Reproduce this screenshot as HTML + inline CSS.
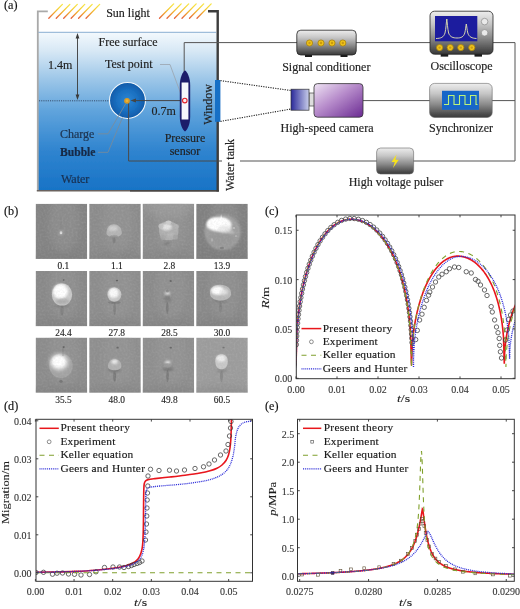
<!DOCTYPE html>
<html><head><meta charset="utf-8"><title>Figure</title>
<style>
html,body{margin:0;padding:0;background:#fff;}
svg{display:block;font-family:"Liberation Serif","DejaVu Serif",serif;}
.lab{font-size:12px;fill:#222;stroke:#222;stroke-width:0.16px;}
.tick{font-size:10px;fill:#333;stroke:#333;stroke-width:0.1px;}
.leg{font-size:11.4px;fill:#161616;stroke:#161616;stroke-width:0.14px;}
.pl{font-size:12.2px;fill:#111;stroke:#111;stroke-width:0.15px;}
.ax{font-size:11px;fill:#1c1c1c;stroke:#1c1c1c;stroke-width:0.1px;}
</style></head><body>
<svg width="520" height="609" viewBox="0 0 520 609">
<defs>
<linearGradient id="water" x1="0" y1="0" x2="0" y2="1">
<stop offset="0" stop-color="#f4f9fd"/><stop offset="0.12" stop-color="#d7e8f5"/><stop offset="0.3" stop-color="#9cc6e8"/><stop offset="0.5" stop-color="#5fa3dc"/><stop offset="0.75" stop-color="#2f84cf"/><stop offset="1" stop-color="#1873c6"/>
</linearGradient>
<linearGradient id="ray" x1="0" y1="1" x2="1" y2="0">
<stop offset="0" stop-color="#e5603a"/><stop offset="0.35" stop-color="#f0a22e"/><stop offset="0.7" stop-color="#f5d235"/><stop offset="1" stop-color="#f7e648"/>
</linearGradient>
<radialGradient id="bub" cx="0.5" cy="0.5" r="0.5">
<stop offset="0" stop-color="#2b86d4"/><stop offset="0.6" stop-color="#1a6fc0"/><stop offset="1" stop-color="#0f5aa8"/>
</radialGradient>
<linearGradient id="box" x1="0" y1="0" x2="0" y2="1">
<stop offset="0" stop-color="#ededed"/><stop offset="0.3" stop-color="#c6c6c6"/><stop offset="0.62" stop-color="#8a8a8a"/><stop offset="1" stop-color="#383838"/>
</linearGradient>
<linearGradient id="lens" x1="0" y1="0" x2="1" y2="0">
<stop offset="0" stop-color="#2a2a9a"/><stop offset="1" stop-color="#c8cdea"/>
</linearGradient>
<linearGradient id="cam" x1="0" y1="0" x2="1" y2="1">
<stop offset="0" stop-color="#efe4f4"/><stop offset="0.45" stop-color="#b78ccb"/><stop offset="1" stop-color="#6a2a92"/>
</linearGradient>
<filter id="b1" x="-50%" y="-50%" width="200%" height="200%"><feGaussianBlur stdDeviation="1"/></filter>
<filter id="b2" x="-50%" y="-50%" width="200%" height="200%"><feGaussianBlur stdDeviation="2"/></filter>
<filter id="b3" x="-50%" y="-50%" width="200%" height="200%"><feGaussianBlur stdDeviation="3.5"/></filter>
<filter id="b05" x="-50%" y="-50%" width="200%" height="200%"><feGaussianBlur stdDeviation="0.5"/></filter>
<filter id="grain" x="0" y="0" width="100%" height="100%"><feTurbulence type="fractalNoise" baseFrequency="0.55" numOctaves="2" seed="7" result="n"/><feColorMatrix type="matrix" values="0 0 0 0 0.3  0 0 0 0 0.3  0 0 0 0 0.3  2.2 0 0 0 -0.8"/><feGaussianBlur stdDeviation="0.7"/></filter>
<filter id="grain2" x="0" y="0" width="100%" height="100%"><feTurbulence type="fractalNoise" baseFrequency="0.5" numOctaves="2" seed="23" result="n"/><feColorMatrix type="matrix" values="0 0 0 0 1  0 0 0 0 1  0 0 0 0 1  2.2 0 0 0 -0.85"/><feGaussianBlur stdDeviation="0.7"/></filter>
<filter id="gb" x="0" y="0" width="520" height="609" filterUnits="userSpaceOnUse"><feGaussianBlur stdDeviation="0.42"/></filter>
<filter id="soft" x="-5%" y="-5%" width="110%" height="110%"><feGaussianBlur stdDeviation="0.35"/></filter>
</defs>
<rect width="520" height="609" fill="#fff"/>
<g filter="url(#gb)">

<g id="pa">
<text x="4" y="8.6" class="pl">(a)</text>
<rect x="37.5" y="32" width="179.5" height="158.6" fill="url(#water)"/>
<path d="M47.8,11.3 H37.8 V190.8" fill="none" stroke="#a9a9a9" stroke-width="1.8"/>
<path d="M36.8,190.7 H130" fill="none" stroke="#6a625e" stroke-width="1.5"/><path d="M130,190.8 H218.9" fill="none" stroke="#4a4644" stroke-width="1.8"/>
<path d="M208,11.2 H217.7 V191.6" fill="none" stroke="#3c3c3c" stroke-width="2.4"/>
<line x1="48.8" y1="18.2" x2="62.4" y2="4.4" stroke="url(#ray)" stroke-width="1.3" stroke-linecap="round"/>
<line x1="56.25" y1="18.2" x2="69.85" y2="4.4" stroke="url(#ray)" stroke-width="1.3" stroke-linecap="round"/>
<line x1="63.7" y1="18.2" x2="77.3" y2="4.4" stroke="url(#ray)" stroke-width="1.3" stroke-linecap="round"/>
<line x1="71.15" y1="18.2" x2="84.75" y2="4.4" stroke="url(#ray)" stroke-width="1.3" stroke-linecap="round"/>
<line x1="78.6" y1="18.2" x2="92.2" y2="4.4" stroke="url(#ray)" stroke-width="1.3" stroke-linecap="round"/>
<line x1="86.05" y1="18.2" x2="99.65" y2="4.4" stroke="url(#ray)" stroke-width="1.3" stroke-linecap="round"/>
<line x1="159.5" y1="18.2" x2="173.7" y2="3.9" stroke="url(#ray)" stroke-width="1.3" stroke-linecap="round"/>
<line x1="167" y1="18.2" x2="181.2" y2="3.9" stroke="url(#ray)" stroke-width="1.3" stroke-linecap="round"/>
<line x1="174.5" y1="18.2" x2="188.7" y2="3.9" stroke="url(#ray)" stroke-width="1.3" stroke-linecap="round"/>
<line x1="182" y1="18.2" x2="196.2" y2="3.9" stroke="url(#ray)" stroke-width="1.3" stroke-linecap="round"/>
<line x1="189.5" y1="18.2" x2="203.7" y2="3.9" stroke="url(#ray)" stroke-width="1.3" stroke-linecap="round"/>
<line x1="197" y1="18.2" x2="211.2" y2="3.9" stroke="url(#ray)" stroke-width="1.3" stroke-linecap="round"/>
<text x="128" y="17" class="lab" text-anchor="middle">Sun light</text>
<line x1="38.5" y1="32.3" x2="216" y2="32.3" stroke="#6f9ac6" stroke-width="0.8"/>
<text x="128" y="46" class="lab" text-anchor="middle">Free surface</text>
<line x1="77.5" y1="35" x2="77.5" y2="98" stroke="#3a3a3a" stroke-width="0.9"/>
<path d="M77.5,33 L75.6,38.5 L79.4,38.5 Z M77.5,100 L75.6,94.5 L79.4,94.5 Z" fill="#3a3a3a"/>
<text x="48" y="69" class="lab">1.4m</text>
<text x="105" y="68" class="lab">Test point</text>
<line x1="39" y1="100.8" x2="110" y2="100.8" stroke="#2b3f5c" stroke-width="0.9" stroke-dasharray="1.1,1.1"/>
<path d="M184.2,72 V42.6 H297" fill="none" stroke="#555" stroke-width="1"/>
<circle cx="127.5" cy="100.5" r="18" fill="url(#bub)" stroke="#f2f7fb" stroke-width="1.1"/>
<path d="M98,133.8 H108 L125.5,104" fill="none" stroke="#7d8a96" stroke-width="0.8"/>
<path d="M98,152.3 H108 L122.5,117.5" fill="none" stroke="#7d8a96" stroke-width="0.8"/>
<path d="M160,64.5 H170 L182.5,98.5" fill="none" stroke="#9aa3ad" stroke-width="0.8"/>
<path d="M128.6,103 V161 H222" fill="none" stroke="#4a4a4a" stroke-width="1"/>
<path d="M240,161 H377" fill="none" stroke="#555" stroke-width="1"/>
<line x1="133" y1="100.6" x2="183" y2="100.6" stroke="#444" stroke-width="1"/>
<path d="M130.5,100.6 L136,98.6 L136,102.6 Z" fill="#444"/>
<circle cx="127" cy="100.8" r="2.9" fill="#d99a26"/>
<circle cx="127" cy="100.8" r="1.4" fill="#e8b43a"/>
<text x="151.5" y="115" class="lab">0.7m</text>
<path d="M185,70.6 C187.2,71.5 190.2,78 190.2,85 V117 C190.2,124 187.2,130.5 185,131.4 C182.8,130.5 179.8,124 179.8,117 V85 C179.8,78 182.8,71.5 185,70.6 Z" fill="#1b1b6b"/>
<rect x="181.6" y="82.5" width="6.8" height="37" fill="#f4f6fb"/>
<circle cx="184.8" cy="100.6" r="2.3" fill="#fbeaea" stroke="#e0202a" stroke-width="1.1"/>
<text x="185" y="142" class="lab" text-anchor="middle">Pressure</text>
<text x="185" y="155" class="lab" text-anchor="middle">sensor</text>
<text x="60" y="137.5" class="lab" style="fill:#1c3558">Charge</text>
<text x="60" y="156" class="lab" style="font-weight:bold;fill:#14294a;font-size:11.6px">Bubble</text>
<text x="61" y="183" class="lab" style="fill:#17325a">Water</text>
<rect x="215" y="80" width="5.4" height="41.8" fill="#176fc6"/>
<text transform="translate(211.6,104.4) rotate(-90)" class="lab" text-anchor="middle">Window</text>
<text transform="translate(233.6,165) rotate(-90)" class="lab" text-anchor="middle">Water tank</text>
<line x1="220.5" y1="80.6" x2="291" y2="90.5" stroke="#222" stroke-width="1.1" stroke-dasharray="1.2,1.2"/>
<line x1="220.5" y1="121.4" x2="291" y2="109" stroke="#222" stroke-width="1.1" stroke-dasharray="1.2,1.2"/>
<path d="M356,42.6 H430 M493,42.6 H515 V161 H413 M363,100.6 H430 M492,100.6 H515" fill="none" stroke="#555" stroke-width="1"/>
<rect x="305" y="54" width="7" height="3" fill="#1a1a1a"/><rect x="340.5" y="54" width="7" height="3" fill="#1a1a1a"/>
<rect x="296.8" y="30.2" width="59.4" height="24.8" rx="4" fill="url(#box)" stroke="#222" stroke-width="0.8"/>
<circle cx="309.5" cy="43" r="3.1" fill="#efc31a" stroke="#a8820e" stroke-width="0.8"/><circle cx="309.5" cy="43" r="1.2" fill="#c99a12"/>
<circle cx="321" cy="43" r="3.1" fill="#efc31a" stroke="#a8820e" stroke-width="0.8"/><circle cx="321" cy="43" r="1.2" fill="#c99a12"/>
<circle cx="332" cy="43" r="3.1" fill="#efc31a" stroke="#a8820e" stroke-width="0.8"/><circle cx="332" cy="43" r="1.2" fill="#c99a12"/>
<circle cx="342.8" cy="43" r="3.1" fill="#efc31a" stroke="#a8820e" stroke-width="0.8"/><circle cx="342.8" cy="43" r="1.2" fill="#c99a12"/>
<text x="326.3" y="71.2" class="lab" text-anchor="middle">Signal conditioner</text>
<rect x="440.7" y="53" width="7.5" height="3.6" fill="#1a1a1a"/><rect x="474.5" y="53" width="7.5" height="3.6" fill="#1a1a1a"/>
<rect x="430" y="11.2" width="63" height="43" rx="4.5" fill="url(#box)" stroke="#222" stroke-width="0.8"/>
<rect x="435" y="16" width="42.3" height="25.3" fill="#1d1d9e"/>
<path d="M436,38.5 C441,38.3 443.5,37.5 445,33 C446,29 446.3,22 446.8,19 C447.3,22 447.6,29 448.6,33 C450,37 453,38 457,38 C461,38 463.5,37 464.8,33 C465.6,30 465.8,26 466.3,24 C466.8,26 467,30 467.8,33 C469,37 472,38.3 476.5,38.5" fill="none" stroke="#e8e6b0" stroke-width="0.9"/>
<circle cx="484.6" cy="21.6" r="3.3" fill="#e9e9e9" stroke="#8a8a8a" stroke-width="0.7"/>
<circle cx="484.6" cy="32.8" r="3.3" fill="#e9e9e9" stroke="#8a8a8a" stroke-width="0.7"/>
<circle cx="439.6" cy="47.6" r="3.1" fill="#efc31a" stroke="#a8820e" stroke-width="0.8"/><circle cx="439.6" cy="47.6" r="1.2" fill="#c99a12"/>
<circle cx="450.2" cy="47.6" r="3.1" fill="#efc31a" stroke="#a8820e" stroke-width="0.8"/><circle cx="450.2" cy="47.6" r="1.2" fill="#c99a12"/>
<circle cx="460.8" cy="47.6" r="3.1" fill="#efc31a" stroke="#a8820e" stroke-width="0.8"/><circle cx="460.8" cy="47.6" r="1.2" fill="#c99a12"/>
<circle cx="471.8" cy="47.6" r="3.1" fill="#efc31a" stroke="#a8820e" stroke-width="0.8"/><circle cx="471.8" cy="47.6" r="1.2" fill="#c99a12"/>
<text x="461.5" y="70.4" class="lab" text-anchor="middle">Oscilloscope</text>
<rect x="309" y="93" width="5.5" height="13" fill="#ddd" stroke="#444" stroke-width="0.7"/>
<rect x="291" y="89.2" width="18" height="21" fill="url(#lens)" stroke="#333" stroke-width="0.7"/>
<rect x="314" y="83.6" width="49" height="33.6" rx="3.5" fill="url(#cam)" stroke="#333" stroke-width="0.8"/>
<text x="327" y="131.6" class="lab" text-anchor="middle">High-speed camera</text>
<rect x="429.6" y="83.4" width="62.6" height="34" rx="5" fill="url(#box)" stroke="#666" stroke-width="0.6"/>
<rect x="442" y="90.8" width="37" height="19" fill="#1466c8"/>
<path d="M444,104.5 H448.5 V95.5 H454 V104.5 H459.5 V95.5 H465 V104.5 H470.5 V95.5 H476 V104.5 H477.5" fill="none" stroke="#baf27a" stroke-width="1.1"/>
<text x="461" y="131.8" class="lab" text-anchor="middle">Synchronizer</text>
<rect x="376.6" y="148" width="37" height="26" rx="4" fill="url(#box)" stroke="#666" stroke-width="0.6"/>
<path d="M396.5,154.5 L391.5,162 L394.8,162 L393,168 L398.8,159.8 L395.4,159.8 Z" fill="#f7e21c"/>
<text x="396" y="186" class="lab" text-anchor="middle">High voltage pulser</text>
</g>
<g id="pb">
<text x="4" y="215" class="pl">(b)</text>
<clipPath id="cl00"><rect x="35.6" y="203.7" width="51.6" height="55.2"/></clipPath>
<g clip-path="url(#cl00)">
<rect x="35.6" y="203.7" width="51.6" height="55.2" fill="#848484"/>
<ellipse cx="63.98" cy="223.02" rx="15.48" ry="30.36" fill="#9c9c9c" opacity="0.35" filter="url(#b3)"/>
<ellipse cx="61.4" cy="260.9" rx="36.12" ry="9" fill="#777" opacity="0.3" filter="url(#b3)"/>
<path d="M60.6,217 h0.8 v13 h-0.8z" fill="#787878" opacity="0.3" filter="url(#b05)"/>
<ellipse cx="61" cy="232.8" rx="1.3" ry="1.5" fill="#ffffff" opacity="1" filter="url(#b05)"/>
<ellipse cx="61" cy="232.8" rx="2.6" ry="2.8" fill="#b0b0b0" opacity="0.5" filter="url(#b1)"/>
<rect x="35.6" y="203.7" width="51.6" height="55.2" filter="url(#grain)" opacity="0.1"/>
<rect x="35.6" y="203.7" width="51.6" height="55.2" filter="url(#grain2)" opacity="0.08"/>
</g>
<text x="63.4" y="269.1" class="tick" style="fill:#1c1c1c;font-size:9.4px;stroke:#1c1c1c;stroke-width:0.12px" text-anchor="middle">0.1</text>
<clipPath id="cl01"><rect x="89.2" y="203.7" width="51.6" height="55.2"/></clipPath>
<g clip-path="url(#cl01)">
<rect x="89.2" y="203.7" width="51.6" height="55.2" fill="#8c8c8c"/>
<ellipse cx="117.58" cy="223.02" rx="15.48" ry="30.36" fill="#9c9c9c" opacity="0.35" filter="url(#b3)"/>
<ellipse cx="115" cy="260.9" rx="36.12" ry="9" fill="#777" opacity="0.3" filter="url(#b3)"/>
<ellipse cx="114" cy="240" rx="1.6" ry="3.5" fill="#7e7e7e" opacity="0.9" filter="url(#b05)"/>
<path d="M106.5,233 C106.5,227 110,224.2 114,224.2 C118,224.2 121.8,227 121.8,233 C121.8,235.5 118,237.2 114,237.2 C110,237.2 106.5,235.5 106.5,233z" fill="#b4b4b4" opacity="1" filter="url(#b05)"/>
<ellipse cx="113" cy="228.5" rx="4.5" ry="2.8" fill="#d2d2d2" opacity="0.9" filter="url(#b1)"/>
<ellipse cx="114" cy="236.5" rx="4" ry="1.3" fill="#8a8a8a" opacity="0.7" filter="url(#b05)"/>
<rect x="89.2" y="203.7" width="51.6" height="55.2" filter="url(#grain)" opacity="0.1"/>
<rect x="89.2" y="203.7" width="51.6" height="55.2" filter="url(#grain2)" opacity="0.08"/>
</g>
<text x="116.8" y="269.1" class="tick" style="fill:#1c1c1c;font-size:9.4px;stroke:#1c1c1c;stroke-width:0.12px" text-anchor="middle">1.1</text>
<clipPath id="cl02"><rect x="142.6" y="203.7" width="51.6" height="55.2"/></clipPath>
<g clip-path="url(#cl02)">
<rect x="142.6" y="203.7" width="51.6" height="55.2" fill="#8d8d8d"/>
<ellipse cx="170.98" cy="223.02" rx="15.48" ry="30.36" fill="#9c9c9c" opacity="0.35" filter="url(#b3)"/>
<ellipse cx="168.4" cy="260.9" rx="36.12" ry="9" fill="#777" opacity="0.3" filter="url(#b3)"/>
<ellipse cx="168.5" cy="204" rx="26" ry="14" fill="#a0a0a0" opacity="0.55" filter="url(#b3)"/>
<path d="M159,231 C158.5,224 163,221 169,221.5 C175,221.5 179,225 178.5,231 C178.5,237 174,240.5 169,240 C163,240.5 159.5,237 159,231z" fill="#aeaeae" opacity="1" filter="url(#b05)"/>
<ellipse cx="166.5" cy="227" rx="5.5" ry="3.6" fill="#e6e6e6" opacity="0.95" filter="url(#b1)"/>
<ellipse cx="171" cy="235" rx="4" ry="3" fill="#b8b8b8" opacity="0.8" filter="url(#b1)"/>
<ellipse cx="161" cy="226" rx="2.6" ry="2.6" fill="#c4c4c4" opacity="0.9" filter="url(#b05)"/>
<ellipse cx="176" cy="226.5" rx="2.8" ry="2.5" fill="#b4b4b4" opacity="0.9" filter="url(#b05)"/>
<ellipse cx="163" cy="237.5" rx="2.6" ry="2.4" fill="#a6a6a6" opacity="0.9" filter="url(#b05)"/>
<ellipse cx="175.5" cy="237" rx="2.6" ry="2.6" fill="#a4a4a4" opacity="0.9" filter="url(#b05)"/>
<ellipse cx="168.5" cy="222.3" rx="3" ry="1.8" fill="#d0d0d0" opacity="0.9" filter="url(#b05)"/>
<ellipse cx="167" cy="243.5" rx="3" ry="1.5" fill="#747474" opacity="0.7" filter="url(#b1)"/>
<rect x="142.6" y="203.7" width="51.6" height="55.2" filter="url(#grain)" opacity="0.1"/>
<rect x="142.6" y="203.7" width="51.6" height="55.2" filter="url(#grain2)" opacity="0.08"/>
</g>
<text x="169.4" y="269.1" class="tick" style="fill:#1c1c1c;font-size:9.4px;stroke:#1c1c1c;stroke-width:0.12px" text-anchor="middle">2.8</text>
<clipPath id="cl03"><rect x="196.2" y="203.7" width="51.6" height="55.2"/></clipPath>
<g clip-path="url(#cl03)">
<rect x="196.2" y="203.7" width="51.6" height="55.2" fill="#808080"/>
<ellipse cx="224.58" cy="223.02" rx="15.48" ry="30.36" fill="#9c9c9c" opacity="0.35" filter="url(#b3)"/>
<ellipse cx="222" cy="260.9" rx="36.12" ry="9" fill="#777" opacity="0.3" filter="url(#b3)"/>
<ellipse cx="222.5" cy="232" rx="18" ry="17.6" fill="#a0a0a0" opacity="1" filter="url(#b1)"/>
<ellipse cx="222.5" cy="237" rx="14" ry="11" fill="#979797" opacity="0.8" filter="url(#b2)"/>
<path d="M221,214 L222.3,219 L220.4,219z" fill="#f0f0f0" opacity="0.9" filter="url(#b05)"/>
<ellipse cx="219" cy="224.5" rx="12.5" ry="7" fill="#ffffff" opacity="1" filter="url(#b1)"/>
<ellipse cx="215" cy="222.5" rx="7" ry="4.5" fill="#ffffff" opacity="1" filter="url(#b1)"/>
<ellipse cx="222" cy="222" rx="6" ry="4" fill="#ffffff" opacity="1" filter="url(#b1)"/>
<ellipse cx="225" cy="229" rx="7" ry="4" fill="#e8e8e8" opacity="0.8" filter="url(#b1)"/>
<ellipse cx="231.5" cy="232.5" rx="3.5" ry="1.3" fill="#d8d8d8" opacity="0.6" filter="url(#b1)"/>
<ellipse cx="234" cy="228" rx="1" ry="1" fill="#ddd" opacity="0.6" filter="url(#b05)"/>
<ellipse cx="236" cy="236" rx="1" ry="1" fill="#ccc" opacity="0.5" filter="url(#b05)"/>
<ellipse cx="212" cy="240" rx="1.2" ry="1.8" fill="#c4c4c4" opacity="0.5" filter="url(#b05)"/>
<ellipse cx="222" cy="248" rx="2" ry="1.2" fill="#6e6e6e" opacity="0.6" filter="url(#b05)"/>
<rect x="196.2" y="203.7" width="51.6" height="55.2" filter="url(#grain)" opacity="0.1"/>
<rect x="196.2" y="203.7" width="51.6" height="55.2" filter="url(#grain2)" opacity="0.08"/>
</g>
<text x="222" y="269.1" class="tick" style="fill:#1c1c1c;font-size:9.4px;stroke:#1c1c1c;stroke-width:0.12px" text-anchor="middle">13.9</text>
<clipPath id="cl10"><rect x="35.6" y="271" width="51.6" height="55.2"/></clipPath>
<g clip-path="url(#cl10)">
<rect x="35.6" y="271" width="51.6" height="55.2" fill="#898989"/>
<ellipse cx="63.98" cy="290.32" rx="15.48" ry="30.36" fill="#9c9c9c" opacity="0.35" filter="url(#b3)"/>
<ellipse cx="61.4" cy="328.2" rx="36.12" ry="9" fill="#777" opacity="0.3" filter="url(#b3)"/>
<ellipse cx="62" cy="310" rx="1.5" ry="5.5" fill="#7c7c7c" opacity="0.8" filter="url(#b05)"/>
<ellipse cx="62" cy="305.8" rx="8" ry="1.5" fill="#777" opacity="0.65" filter="url(#b1)"/>
<ellipse cx="62" cy="294.6" rx="10.2" ry="11" fill="#c9c9c9" opacity="1" filter="url(#b05)"/>
<ellipse cx="60.5" cy="291.5" rx="7.5" ry="7.5" fill="#ffffff" opacity="1" filter="url(#b1)"/>
<ellipse cx="62.5" cy="301.5" rx="7" ry="3" fill="#a5a5a5" opacity="0.7" filter="url(#b1)"/>
<ellipse cx="63.6" cy="280" rx="1" ry="0.8" fill="#555" opacity="0.8" filter="url(#b05)"/>
<rect x="35.6" y="271" width="51.6" height="55.2" filter="url(#grain)" opacity="0.1"/>
<rect x="35.6" y="271" width="51.6" height="55.2" filter="url(#grain2)" opacity="0.08"/>
</g>
<text x="63.4" y="336.4" class="tick" style="fill:#1c1c1c;font-size:9.4px;stroke:#1c1c1c;stroke-width:0.12px" text-anchor="middle">24.4</text>
<clipPath id="cl11"><rect x="89.2" y="271" width="51.6" height="55.2"/></clipPath>
<g clip-path="url(#cl11)">
<rect x="89.2" y="271" width="51.6" height="55.2" fill="#8d8d8d"/>
<ellipse cx="117.58" cy="290.32" rx="15.48" ry="30.36" fill="#9c9c9c" opacity="0.35" filter="url(#b3)"/>
<ellipse cx="115" cy="328.2" rx="36.12" ry="9" fill="#777" opacity="0.3" filter="url(#b3)"/>
<ellipse cx="114.6" cy="309" rx="1.3" ry="6" fill="#7c7c7c" opacity="0.8" filter="url(#b05)"/>
<ellipse cx="114.5" cy="302.5" rx="6.5" ry="1.3" fill="#707070" opacity="0.7" filter="url(#b05)"/>
<ellipse cx="114.4" cy="294.6" rx="7" ry="7.2" fill="#c6c6c6" opacity="1" filter="url(#b05)"/>
<ellipse cx="113.6" cy="293" rx="5" ry="5" fill="#fafafa" opacity="1" filter="url(#b1)"/>
<ellipse cx="117" cy="280.6" rx="1.2" ry="0.8" fill="#555" opacity="0.8" filter="url(#b05)"/>
<rect x="89.2" y="271" width="51.6" height="55.2" filter="url(#grain)" opacity="0.1"/>
<rect x="89.2" y="271" width="51.6" height="55.2" filter="url(#grain2)" opacity="0.08"/>
</g>
<text x="116.8" y="336.4" class="tick" style="fill:#1c1c1c;font-size:9.4px;stroke:#1c1c1c;stroke-width:0.12px" text-anchor="middle">27.8</text>
<clipPath id="cl12"><rect x="142.6" y="271" width="51.6" height="55.2"/></clipPath>
<g clip-path="url(#cl12)">
<rect x="142.6" y="271" width="51.6" height="55.2" fill="#8b8b8b"/>
<ellipse cx="170.98" cy="290.32" rx="15.48" ry="30.36" fill="#9c9c9c" opacity="0.35" filter="url(#b3)"/>
<ellipse cx="168.4" cy="328.2" rx="36.12" ry="9" fill="#777" opacity="0.3" filter="url(#b3)"/>
<ellipse cx="167.3" cy="308" rx="1.2" ry="6" fill="#757575" opacity="0.8" filter="url(#b05)"/>
<ellipse cx="167.5" cy="299" rx="3.6" ry="3.6" fill="#7a7a7a" opacity="0.8" filter="url(#b1)"/>
<ellipse cx="167.5" cy="293.3" rx="2.8" ry="1.8" fill="#e0e0e0" opacity="0.95" filter="url(#b1)"/>
<ellipse cx="167.5" cy="291" rx="1.5" ry="1.5" fill="#777" opacity="0.6" filter="url(#b05)"/>
<ellipse cx="170.7" cy="281" rx="1.2" ry="0.9" fill="#5c5c5c" opacity="0.8" filter="url(#b05)"/>
<rect x="142.6" y="271" width="51.6" height="55.2" filter="url(#grain)" opacity="0.1"/>
<rect x="142.6" y="271" width="51.6" height="55.2" filter="url(#grain2)" opacity="0.08"/>
</g>
<text x="169.4" y="336.4" class="tick" style="fill:#1c1c1c;font-size:9.4px;stroke:#1c1c1c;stroke-width:0.12px" text-anchor="middle">28.5</text>
<clipPath id="cl13"><rect x="196.2" y="271" width="51.6" height="55.2"/></clipPath>
<g clip-path="url(#cl13)">
<rect x="196.2" y="271" width="51.6" height="55.2" fill="#898989"/>
<ellipse cx="224.58" cy="290.32" rx="15.48" ry="30.36" fill="#9c9c9c" opacity="0.35" filter="url(#b3)"/>
<ellipse cx="222" cy="328.2" rx="36.12" ry="9" fill="#777" opacity="0.3" filter="url(#b3)"/>
<ellipse cx="220.5" cy="307" rx="1.3" ry="6" fill="#7c7c7c" opacity="0.8" filter="url(#b05)"/>
<ellipse cx="220" cy="301" rx="7" ry="1.6" fill="#767676" opacity="0.6" filter="url(#b1)"/>
<path d="M210,294 C209.5,288 214,284.5 220,284.8 C226,284.5 231.5,288 231,294 C231,298 226,300.5 220.5,300.5 C215,300.5 210.5,298 210,294z" fill="#b9b9b9" opacity="1" filter="url(#b05)"/>
<ellipse cx="217.5" cy="290.5" rx="6.5" ry="4.3" fill="#ffffff" opacity="1" filter="url(#b1)"/>
<ellipse cx="224" cy="292" rx="4" ry="3" fill="#e6e6e6" opacity="0.8" filter="url(#b1)"/>
<rect x="196.2" y="271" width="51.6" height="55.2" filter="url(#grain)" opacity="0.1"/>
<rect x="196.2" y="271" width="51.6" height="55.2" filter="url(#grain2)" opacity="0.08"/>
</g>
<text x="222" y="336.4" class="tick" style="fill:#1c1c1c;font-size:9.4px;stroke:#1c1c1c;stroke-width:0.12px" text-anchor="middle">30.0</text>
<clipPath id="cl20"><rect x="35.6" y="337.6" width="51.6" height="55.2"/></clipPath>
<g clip-path="url(#cl20)">
<rect x="35.6" y="337.6" width="51.6" height="55.2" fill="#8c8c8c"/>
<ellipse cx="63.98" cy="356.92" rx="15.48" ry="30.36" fill="#9c9c9c" opacity="0.35" filter="url(#b3)"/>
<ellipse cx="61.4" cy="394.8" rx="36.12" ry="9" fill="#777" opacity="0.3" filter="url(#b3)"/>
<ellipse cx="61" cy="365.8" rx="11.8" ry="12.2" fill="#a3a3a3" opacity="1" filter="url(#b05)"/>
<ellipse cx="59" cy="362" rx="8.5" ry="7.5" fill="#ffffff" opacity="1" filter="url(#b2)"/>
<ellipse cx="58.5" cy="361" rx="5.5" ry="4.5" fill="#ffffff" opacity="1" filter="url(#b1)"/>
<ellipse cx="61" cy="381.5" rx="1.8" ry="1.6" fill="#6a6a6a" opacity="0.7" filter="url(#b05)"/>
<ellipse cx="63.6" cy="347" rx="1.1" ry="0.9" fill="#555" opacity="0.8" filter="url(#b05)"/>
<path d="M62.6,348 h0.8 v8 h-0.8z" fill="#6e6e6e" opacity="0.5" filter="url(#b05)"/>
<rect x="35.6" y="337.6" width="51.6" height="55.2" filter="url(#grain)" opacity="0.1"/>
<rect x="35.6" y="337.6" width="51.6" height="55.2" filter="url(#grain2)" opacity="0.08"/>
</g>
<text x="63.4" y="403" class="tick" style="fill:#1c1c1c;font-size:9.4px;stroke:#1c1c1c;stroke-width:0.12px" text-anchor="middle">35.5</text>
<clipPath id="cl21"><rect x="89.2" y="337.6" width="51.6" height="55.2"/></clipPath>
<g clip-path="url(#cl21)">
<rect x="89.2" y="337.6" width="51.6" height="55.2" fill="#8f8f8f"/>
<ellipse cx="117.58" cy="356.92" rx="15.48" ry="30.36" fill="#9c9c9c" opacity="0.35" filter="url(#b3)"/>
<ellipse cx="115" cy="394.8" rx="36.12" ry="9" fill="#777" opacity="0.3" filter="url(#b3)"/>
<ellipse cx="114.6" cy="376" rx="1.4" ry="5.5" fill="#747474" opacity="0.85" filter="url(#b05)"/>
<ellipse cx="114.5" cy="370" rx="6.5" ry="2" fill="#6e6e6e" opacity="0.7" filter="url(#b1)"/>
<path d="M108,366 C108,361.5 111,359.2 114.6,359.2 C118.2,359.2 121.4,361.5 121.4,366 C121.4,369 118,370.3 114.6,370.3 C111,370.3 108,369 108,366z" fill="#b2b2b2" opacity="1" filter="url(#b05)"/>
<ellipse cx="114.6" cy="361.8" rx="3" ry="2.2" fill="#f0f0f0" opacity="0.95" filter="url(#b1)"/>
<ellipse cx="117.5" cy="347.7" rx="1.2" ry="0.9" fill="#5a5a5a" opacity="0.8" filter="url(#b05)"/>
<rect x="89.2" y="337.6" width="51.6" height="55.2" filter="url(#grain)" opacity="0.1"/>
<rect x="89.2" y="337.6" width="51.6" height="55.2" filter="url(#grain2)" opacity="0.08"/>
</g>
<text x="116.8" y="403" class="tick" style="fill:#1c1c1c;font-size:9.4px;stroke:#1c1c1c;stroke-width:0.12px" text-anchor="middle">48.0</text>
<clipPath id="cl22"><rect x="142.6" y="337.6" width="51.6" height="55.2"/></clipPath>
<g clip-path="url(#cl22)">
<rect x="142.6" y="337.6" width="51.6" height="55.2" fill="#8f8f8f"/>
<ellipse cx="170.98" cy="356.92" rx="15.48" ry="30.36" fill="#9c9c9c" opacity="0.35" filter="url(#b3)"/>
<ellipse cx="168.4" cy="394.8" rx="36.12" ry="9" fill="#777" opacity="0.3" filter="url(#b3)"/>
<ellipse cx="167.5" cy="376" rx="1.3" ry="6" fill="#747474" opacity="0.85" filter="url(#b05)"/>
<ellipse cx="168" cy="369" rx="5.6" ry="1.8" fill="#6c6c6c" opacity="0.8" filter="url(#b1)"/>
<ellipse cx="167.8" cy="362.3" rx="2.8" ry="1.9" fill="#e2e2e2" opacity="0.95" filter="url(#b1)"/>
<ellipse cx="167.5" cy="365.5" rx="3.5" ry="2.2" fill="#9a9a9a" opacity="0.8" filter="url(#b05)"/>
<ellipse cx="170.7" cy="347.7" rx="1.2" ry="0.9" fill="#5a5a5a" opacity="0.8" filter="url(#b05)"/>
<rect x="142.6" y="337.6" width="51.6" height="55.2" filter="url(#grain)" opacity="0.1"/>
<rect x="142.6" y="337.6" width="51.6" height="55.2" filter="url(#grain2)" opacity="0.08"/>
</g>
<text x="169.4" y="403" class="tick" style="fill:#1c1c1c;font-size:9.4px;stroke:#1c1c1c;stroke-width:0.12px" text-anchor="middle">49.8</text>
<clipPath id="cl23"><rect x="196.2" y="337.6" width="51.6" height="55.2"/></clipPath>
<g clip-path="url(#cl23)">
<rect x="196.2" y="337.6" width="51.6" height="55.2" fill="#9d9d9d"/>
<ellipse cx="224.58" cy="356.92" rx="15.48" ry="30.36" fill="#9c9c9c" opacity="0.35" filter="url(#b3)"/>
<ellipse cx="222" cy="394.8" rx="36.12" ry="9" fill="#777" opacity="0.3" filter="url(#b3)"/>
<ellipse cx="221.5" cy="376" rx="1.4" ry="6" fill="#858585" opacity="0.85" filter="url(#b05)"/>
<ellipse cx="221.5" cy="370.5" rx="5" ry="1.8" fill="#808080" opacity="0.7" filter="url(#b1)"/>
<path d="M215.3,361.5 C215.3,356.5 218,354.3 221.5,354.3 C225,354.3 227.8,356.5 227.8,361.5 C227.8,366.5 225,369.3 221.5,369.3 C218,369.3 215.3,366.5 215.3,361.5z" fill="#c8c8c8" opacity="1" filter="url(#b05)"/>
<ellipse cx="221" cy="358.5" rx="4.5" ry="3.2" fill="#f0f0f0" opacity="0.95" filter="url(#b1)"/>
<ellipse cx="223.6" cy="347.7" rx="1.2" ry="0.9" fill="#6a6a6a" opacity="0.8" filter="url(#b05)"/>
<rect x="196.2" y="337.6" width="51.6" height="55.2" filter="url(#grain)" opacity="0.1"/>
<rect x="196.2" y="337.6" width="51.6" height="55.2" filter="url(#grain2)" opacity="0.08"/>
</g>
<text x="222" y="403" class="tick" style="fill:#1c1c1c;font-size:9.4px;stroke:#1c1c1c;stroke-width:0.12px" text-anchor="middle">60.5</text>
</g>
<g id="pc">
<text x="265" y="215" class="pl">(c)</text>
<clipPath id="clc"><rect x="296.3" y="215" width="218.7" height="163.7"/></clipPath>
<g clip-path="url(#clc)">
<path d="M296,365.47 L296.96,330.98 L297.92,319.18 L298.89,310.58 L299.85,303.59 L300.81,297.63 L301.77,292.38 L302.74,287.69 L303.7,283.42 L304.66,279.51 L305.62,275.89 L306.59,272.53 L307.55,269.39 L308.51,266.45 L309.47,263.68 L310.44,261.06 L311.4,258.59 L312.36,256.25 L313.32,254.03 L314.29,251.92 L315.25,249.91 L316.21,248 L317.17,246.19 L318.14,244.45 L319.1,242.8 L320.06,241.23 L321.02,239.72 L321.99,238.29 L322.95,236.93 L323.91,235.63 L324.87,234.39 L325.84,233.21 L326.8,232.09 L327.76,231.02 L328.72,230.01 L329.69,229.04 L330.65,228.13 L331.61,227.27 L332.57,226.46 L333.54,225.7 L334.5,224.98 L335.46,224.31 L336.42,223.68 L337.39,223.09 L338.35,222.55 L339.31,222.05 L340.27,221.59 L341.24,221.18 L342.2,220.8 L343.16,220.46 L344.12,220.17 L345.09,219.91 L346.05,219.7 L347.01,219.52 L347.97,219.38 L348.94,219.28 L349.9,219.22 L350.86,219.2 L351.82,219.21 L352.79,219.25 L353.75,219.33 L354.71,219.44 L355.67,219.58 L356.64,219.75 L357.6,219.96 L358.56,220.2 L359.52,220.47 L360.49,220.77 L361.45,221.11 L362.41,221.48 L363.37,221.88 L364.34,222.32 L365.3,222.79 L366.26,223.3 L367.22,223.84 L368.19,224.42 L369.15,225.04 L370.11,225.69 L371.07,226.38 L372.04,227.11 L373,227.88 L373.96,228.69 L374.92,229.54 L375.89,230.44 L376.85,231.37 L377.81,232.36 L378.77,233.38 L379.74,234.46 L380.7,235.59 L381.66,236.76 L382.62,237.99 L383.59,239.27 L384.55,240.61 L385.51,242.01 L386.47,243.47 L387.44,245 L388.4,246.59 L389.36,248.25 L390.32,249.99 L391.29,251.81 L392.25,253.72 L393.21,255.71 L394.17,257.8 L395.13,260 L396.1,262.31 L397.06,264.74 L398.02,267.31 L398.98,270.02 L399.95,272.9 L400.91,275.96 L401.87,279.24 L402.83,282.75 L403.8,286.55 L404.76,290.68 L405.72,295.22 L406.68,300.29 L407.65,306.04 L408.61,312.77 L409.57,321.05 L410.53,332.38 L411.5,365.47 L411.5,363.79 L412.27,344.14 L413.04,336.12 L413.82,330.04 L414.59,324.99 L415.36,320.6 L416.14,316.69 L416.91,313.14 L417.68,309.88 L418.46,306.87 L419.23,304.06 L420,301.44 L420.78,298.97 L421.55,296.63 L422.32,294.43 L423.09,292.34 L423.87,290.35 L424.64,288.46 L425.41,286.65 L426.19,284.93 L426.96,283.29 L427.73,281.72 L428.51,280.21 L429.28,278.78 L430.05,277.4 L430.83,276.09 L431.6,274.83 L432.37,273.62 L433.15,272.46 L433.92,271.36 L434.69,270.3 L435.47,269.29 L436.24,268.33 L437.01,267.4 L437.79,266.52 L438.56,265.69 L439.33,264.89 L440.11,264.13 L440.88,263.41 L441.65,262.72 L442.42,262.08 L443.2,261.47 L443.97,260.89 L444.74,260.35 L445.52,259.85 L446.29,259.37 L447.06,258.93 L447.84,258.53 L448.61,258.15 L449.38,257.81 L450.16,257.5 L450.93,257.22 L451.7,256.98 L452.48,256.76 L453.25,256.58 L454.02,256.42 L454.8,256.3 L455.57,256.21 L456.34,256.15 L457.12,256.11 L457.89,256.11 L458.66,256.13 L459.43,256.18 L460.21,256.25 L460.98,256.35 L461.75,256.47 L462.53,256.61 L463.3,256.78 L464.07,256.98 L464.85,257.2 L465.62,257.44 L466.39,257.71 L467.17,258.01 L467.94,258.33 L468.71,258.68 L469.49,259.05 L470.26,259.45 L471.03,259.88 L471.81,260.34 L472.58,260.83 L473.35,261.34 L474.13,261.89 L474.9,262.47 L475.67,263.07 L476.45,263.71 L477.22,264.39 L477.99,265.09 L478.76,265.84 L479.54,266.62 L480.31,267.43 L481.08,268.29 L481.86,269.18 L482.63,270.12 L483.4,271.1 L484.18,272.12 L484.95,273.2 L485.72,274.32 L486.5,275.5 L487.27,276.73 L488.04,278.02 L488.82,279.38 L489.59,280.8 L490.36,282.29 L491.14,283.86 L491.91,285.52 L492.68,287.27 L493.46,289.11 L494.23,291.07 L495,293.15 L495.77,295.37 L496.55,297.75 L497.32,300.31 L498.09,303.08 L498.87,306.11 L499.64,309.45 L500.41,313.18 L501.19,317.44 L501.96,322.45 L502.73,328.66 L503.51,337.26 L504.28,363.79 L504.68,352.01 L505.07,347.16 L505.47,343.47 L505.86,340.38 L506.26,337.68 L506.66,335.25 L507.05,333.03 L507.45,330.98 L507.84,329.07 L508.24,327.28 L508.63,325.58 L509.03,323.98 L509.43,322.45 L509.82,320.99 L510.22,319.59 L510.61,318.24 L511.01,316.95 L511.41,315.71 L511.8,314.51 L512.2,313.35 L512.59,312.23 L512.99,311.14 L513.38,310.09 L513.78,309.07 L514.18,308.08 L514.57,307.12 L514.97,306.18 L515.36,305.27 L515.76,304.38" fill="none" stroke="#e8141c" stroke-width="1.6"/>
<circle cx="296.33" cy="344.59" r="2.2" fill="none" stroke="#3a3a3a" stroke-width="0.75"/>
<circle cx="296.5" cy="340.3" r="2.2" fill="none" stroke="#3a3a3a" stroke-width="0.75"/>
<circle cx="296.71" cy="336" r="2.2" fill="none" stroke="#3a3a3a" stroke-width="0.75"/>
<circle cx="296.96" cy="331.71" r="2.2" fill="none" stroke="#3a3a3a" stroke-width="0.75"/>
<circle cx="297.27" cy="327.42" r="2.2" fill="none" stroke="#3a3a3a" stroke-width="0.75"/>
<circle cx="297.62" cy="323.14" r="2.2" fill="none" stroke="#3a3a3a" stroke-width="0.75"/>
<circle cx="298.01" cy="318.85" r="2.2" fill="none" stroke="#3a3a3a" stroke-width="0.75"/>
<circle cx="298.47" cy="314.58" r="2.2" fill="none" stroke="#3a3a3a" stroke-width="0.75"/>
<circle cx="298.98" cy="310.31" r="2.2" fill="none" stroke="#3a3a3a" stroke-width="0.75"/>
<circle cx="299.56" cy="306.05" r="2.2" fill="none" stroke="#3a3a3a" stroke-width="0.75"/>
<circle cx="300.19" cy="301.79" r="2.2" fill="none" stroke="#3a3a3a" stroke-width="0.75"/>
<circle cx="300.89" cy="297.55" r="2.2" fill="none" stroke="#3a3a3a" stroke-width="0.75"/>
<circle cx="301.66" cy="293.32" r="2.2" fill="none" stroke="#3a3a3a" stroke-width="0.75"/>
<circle cx="302.5" cy="289.1" r="2.2" fill="none" stroke="#3a3a3a" stroke-width="0.75"/>
<circle cx="303.41" cy="284.9" r="2.2" fill="none" stroke="#3a3a3a" stroke-width="0.75"/>
<circle cx="304.41" cy="280.72" r="2.2" fill="none" stroke="#3a3a3a" stroke-width="0.75"/>
<circle cx="305.49" cy="276.56" r="2.2" fill="none" stroke="#3a3a3a" stroke-width="0.75"/>
<circle cx="306.66" cy="272.42" r="2.2" fill="none" stroke="#3a3a3a" stroke-width="0.75"/>
<circle cx="307.92" cy="268.31" r="2.2" fill="none" stroke="#3a3a3a" stroke-width="0.75"/>
<circle cx="309.29" cy="264.23" r="2.2" fill="none" stroke="#3a3a3a" stroke-width="0.75"/>
<circle cx="310.77" cy="260.2" r="2.2" fill="none" stroke="#3a3a3a" stroke-width="0.75"/>
<circle cx="312.36" cy="256.2" r="2.2" fill="none" stroke="#3a3a3a" stroke-width="0.75"/>
<circle cx="314.08" cy="252.26" r="2.2" fill="none" stroke="#3a3a3a" stroke-width="0.75"/>
<circle cx="315.95" cy="248.39" r="2.2" fill="none" stroke="#3a3a3a" stroke-width="0.75"/>
<circle cx="317.96" cy="244.59" r="2.2" fill="none" stroke="#3a3a3a" stroke-width="0.75"/>
<circle cx="320.13" cy="240.88" r="2.2" fill="none" stroke="#3a3a3a" stroke-width="0.75"/>
<circle cx="322.49" cy="237.28" r="2.2" fill="none" stroke="#3a3a3a" stroke-width="0.75"/>
<circle cx="325.05" cy="233.83" r="2.2" fill="none" stroke="#3a3a3a" stroke-width="0.75"/>
<circle cx="327.83" cy="230.55" r="2.2" fill="none" stroke="#3a3a3a" stroke-width="0.75"/>
<circle cx="330.86" cy="227.5" r="2.2" fill="none" stroke="#3a3a3a" stroke-width="0.75"/>
<circle cx="334.15" cy="224.73" r="2.2" fill="none" stroke="#3a3a3a" stroke-width="0.75"/>
<circle cx="337.72" cy="222.34" r="2.2" fill="none" stroke="#3a3a3a" stroke-width="0.75"/>
<circle cx="341.56" cy="220.42" r="2.2" fill="none" stroke="#3a3a3a" stroke-width="0.75"/>
<circle cx="345.65" cy="219.08" r="2.2" fill="none" stroke="#3a3a3a" stroke-width="0.75"/>
<circle cx="349.89" cy="218.45" r="2.2" fill="none" stroke="#3a3a3a" stroke-width="0.75"/>
<circle cx="354.19" cy="218.54" r="2.2" fill="none" stroke="#3a3a3a" stroke-width="0.75"/>
<circle cx="358.42" cy="219.26" r="2.2" fill="none" stroke="#3a3a3a" stroke-width="0.75"/>
<circle cx="362.52" cy="220.56" r="2.2" fill="none" stroke="#3a3a3a" stroke-width="0.75"/>
<circle cx="366.42" cy="222.35" r="2.2" fill="none" stroke="#3a3a3a" stroke-width="0.75"/>
<circle cx="370.1" cy="224.58" r="2.2" fill="none" stroke="#3a3a3a" stroke-width="0.75"/>
<circle cx="373.55" cy="227.15" r="2.2" fill="none" stroke="#3a3a3a" stroke-width="0.75"/>
<circle cx="376.75" cy="230.01" r="2.2" fill="none" stroke="#3a3a3a" stroke-width="0.75"/>
<circle cx="379.74" cy="233.11" r="2.2" fill="none" stroke="#3a3a3a" stroke-width="0.75"/>
<circle cx="382.51" cy="236.39" r="2.2" fill="none" stroke="#3a3a3a" stroke-width="0.75"/>
<circle cx="385.08" cy="239.84" r="2.2" fill="none" stroke="#3a3a3a" stroke-width="0.75"/>
<circle cx="387.47" cy="243.41" r="2.2" fill="none" stroke="#3a3a3a" stroke-width="0.75"/>
<circle cx="389.7" cy="247.09" r="2.2" fill="none" stroke="#3a3a3a" stroke-width="0.75"/>
<circle cx="391.76" cy="250.86" r="2.2" fill="none" stroke="#3a3a3a" stroke-width="0.75"/>
<circle cx="393.68" cy="254.71" r="2.2" fill="none" stroke="#3a3a3a" stroke-width="0.75"/>
<circle cx="395.47" cy="258.62" r="2.2" fill="none" stroke="#3a3a3a" stroke-width="0.75"/>
<circle cx="397.12" cy="262.59" r="2.2" fill="none" stroke="#3a3a3a" stroke-width="0.75"/>
<circle cx="398.66" cy="266.6" r="2.2" fill="none" stroke="#3a3a3a" stroke-width="0.75"/>
<circle cx="400.09" cy="270.66" r="2.2" fill="none" stroke="#3a3a3a" stroke-width="0.75"/>
<circle cx="401.42" cy="274.75" r="2.2" fill="none" stroke="#3a3a3a" stroke-width="0.75"/>
<circle cx="402.64" cy="278.87" r="2.2" fill="none" stroke="#3a3a3a" stroke-width="0.75"/>
<circle cx="403.78" cy="283.02" r="2.2" fill="none" stroke="#3a3a3a" stroke-width="0.75"/>
<circle cx="404.82" cy="287.19" r="2.2" fill="none" stroke="#3a3a3a" stroke-width="0.75"/>
<circle cx="405.78" cy="291.38" r="2.2" fill="none" stroke="#3a3a3a" stroke-width="0.75"/>
<circle cx="406.66" cy="295.59" r="2.2" fill="none" stroke="#3a3a3a" stroke-width="0.75"/>
<circle cx="407.46" cy="299.82" r="2.2" fill="none" stroke="#3a3a3a" stroke-width="0.75"/>
<circle cx="408.19" cy="304.05" r="2.2" fill="none" stroke="#3a3a3a" stroke-width="0.75"/>
<circle cx="408.86" cy="308.3" r="2.2" fill="none" stroke="#3a3a3a" stroke-width="0.75"/>
<circle cx="409.45" cy="312.56" r="2.2" fill="none" stroke="#3a3a3a" stroke-width="0.75"/>
<circle cx="409.98" cy="316.83" r="2.2" fill="none" stroke="#3a3a3a" stroke-width="0.75"/>
<circle cx="410.46" cy="321.1" r="2.2" fill="none" stroke="#3a3a3a" stroke-width="0.75"/>
<circle cx="410.87" cy="325.38" r="2.2" fill="none" stroke="#3a3a3a" stroke-width="0.75"/>
<circle cx="411.23" cy="329.67" r="2.2" fill="none" stroke="#3a3a3a" stroke-width="0.75"/>
<circle cx="411.53" cy="333.96" r="2.2" fill="none" stroke="#3a3a3a" stroke-width="0.75"/>
<circle cx="411.78" cy="338.25" r="2.2" fill="none" stroke="#3a3a3a" stroke-width="0.75"/>
<circle cx="411.98" cy="342.54" r="2.2" fill="none" stroke="#3a3a3a" stroke-width="0.75"/>
<circle cx="415.7" cy="339.6" r="2.2" fill="none" stroke="#3a3a3a" stroke-width="0.75"/>
<circle cx="417.3" cy="330.4" r="2.2" fill="none" stroke="#3a3a3a" stroke-width="0.75"/>
<circle cx="419.6" cy="320" r="2.2" fill="none" stroke="#3a3a3a" stroke-width="0.75"/>
<circle cx="422" cy="314.2" r="2.2" fill="none" stroke="#3a3a3a" stroke-width="0.75"/>
<circle cx="424.2" cy="307.3" r="2.2" fill="none" stroke="#3a3a3a" stroke-width="0.75"/>
<circle cx="426.5" cy="300.4" r="2.2" fill="none" stroke="#3a3a3a" stroke-width="0.75"/>
<circle cx="428.6" cy="295.2" r="2.2" fill="none" stroke="#3a3a3a" stroke-width="0.75"/>
<circle cx="429.8" cy="292" r="2.2" fill="none" stroke="#3a3a3a" stroke-width="0.75"/>
<circle cx="432.5" cy="287" r="2.2" fill="none" stroke="#3a3a3a" stroke-width="0.75"/>
<circle cx="435.5" cy="282" r="2.2" fill="none" stroke="#3a3a3a" stroke-width="0.75"/>
<circle cx="438.75" cy="277" r="2.2" fill="none" stroke="#3a3a3a" stroke-width="0.75"/>
<circle cx="442" cy="274.25" r="2.2" fill="none" stroke="#3a3a3a" stroke-width="0.75"/>
<circle cx="446.25" cy="271.75" r="2.2" fill="none" stroke="#3a3a3a" stroke-width="0.75"/>
<circle cx="449.5" cy="268.75" r="2.2" fill="none" stroke="#3a3a3a" stroke-width="0.75"/>
<circle cx="454.5" cy="267" r="2.2" fill="none" stroke="#3a3a3a" stroke-width="0.75"/>
<circle cx="458.75" cy="267.5" r="2.2" fill="none" stroke="#3a3a3a" stroke-width="0.75"/>
<circle cx="466.25" cy="271.75" r="2.2" fill="none" stroke="#3a3a3a" stroke-width="0.75"/>
<circle cx="471.25" cy="273" r="2.2" fill="none" stroke="#3a3a3a" stroke-width="0.75"/>
<circle cx="475.5" cy="279.5" r="2.2" fill="none" stroke="#3a3a3a" stroke-width="0.75"/>
<circle cx="478" cy="281.25" r="2.2" fill="none" stroke="#3a3a3a" stroke-width="0.75"/>
<circle cx="480.5" cy="285" r="2.2" fill="none" stroke="#3a3a3a" stroke-width="0.75"/>
<circle cx="484.5" cy="290" r="2.2" fill="none" stroke="#3a3a3a" stroke-width="0.75"/>
<circle cx="487" cy="295.5" r="2.2" fill="none" stroke="#3a3a3a" stroke-width="0.75"/>
<circle cx="491.2" cy="306.6" r="2.2" fill="none" stroke="#3a3a3a" stroke-width="0.75"/>
<circle cx="492.3" cy="312" r="2.2" fill="none" stroke="#3a3a3a" stroke-width="0.75"/>
<circle cx="494.6" cy="320" r="2.2" fill="none" stroke="#3a3a3a" stroke-width="0.75"/>
<circle cx="496.5" cy="327" r="2.2" fill="none" stroke="#3a3a3a" stroke-width="0.75"/>
<circle cx="498" cy="332.7" r="2.2" fill="none" stroke="#3a3a3a" stroke-width="0.75"/>
<circle cx="499.2" cy="338.5" r="2.2" fill="none" stroke="#3a3a3a" stroke-width="0.75"/>
<circle cx="499.7" cy="345.4" r="2.2" fill="none" stroke="#3a3a3a" stroke-width="0.75"/>
<circle cx="500.4" cy="351.8" r="2.2" fill="none" stroke="#3a3a3a" stroke-width="0.75"/>
<circle cx="501.5" cy="358" r="2.2" fill="none" stroke="#3a3a3a" stroke-width="0.75"/>
<circle cx="505.5" cy="340" r="2.2" fill="none" stroke="#3a3a3a" stroke-width="0.75"/>
<circle cx="507" cy="330" r="2.2" fill="none" stroke="#3a3a3a" stroke-width="0.75"/>
<circle cx="508.5" cy="319.5" r="2.2" fill="none" stroke="#3a3a3a" stroke-width="0.75"/>
<circle cx="510.5" cy="315" r="2.2" fill="none" stroke="#3a3a3a" stroke-width="0.75"/>
<circle cx="513" cy="311" r="2.2" fill="none" stroke="#3a3a3a" stroke-width="0.75"/>
<path d="M296,366.46 L296.96,331.75 L297.92,319.87 L298.89,311.21 L299.85,304.18 L300.81,298.17 L301.77,292.9 L302.73,288.17 L303.69,283.88 L304.66,279.94 L305.62,276.3 L306.58,272.92 L307.54,269.76 L308.5,266.79 L309.47,264 L310.43,261.37 L311.39,258.88 L312.35,256.53 L313.31,254.29 L314.27,252.17 L315.24,250.15 L316.2,248.23 L317.16,246.4 L318.12,244.65 L319.08,242.99 L320.04,241.4 L321.01,239.89 L321.97,238.45 L322.93,237.07 L323.89,235.76 L324.85,234.52 L325.82,233.33 L326.78,232.2 L327.74,231.12 L328.7,230.1 L329.66,229.13 L330.62,228.22 L331.59,227.35 L332.55,226.53 L333.51,225.76 L334.47,225.04 L335.43,224.36 L336.4,223.73 L337.36,223.14 L338.32,222.59 L339.28,222.08 L340.24,221.62 L341.2,221.2 L342.17,220.82 L343.13,220.48 L344.09,220.18 L345.05,219.93 L346.01,219.71 L346.97,219.53 L347.94,219.38 L348.9,219.28 L349.86,219.22 L350.82,219.2 L351.78,219.21 L352.75,219.25 L353.71,219.33 L354.67,219.44 L355.63,219.58 L356.59,219.75 L357.55,219.96 L358.52,220.19 L359.48,220.47 L360.44,220.77 L361.4,221.11 L362.36,221.48 L363.33,221.88 L364.29,222.32 L365.25,222.8 L366.21,223.31 L367.17,223.86 L368.13,224.44 L369.1,225.06 L370.06,225.71 L371.02,226.41 L371.98,227.14 L372.94,227.92 L373.91,228.73 L374.87,229.59 L375.83,230.49 L376.79,231.43 L377.75,232.42 L378.71,233.46 L379.68,234.54 L380.64,235.67 L381.6,236.86 L382.56,238.09 L383.52,239.38 L384.48,240.73 L385.45,242.14 L386.41,243.61 L387.37,245.15 L388.33,246.75 L389.29,248.42 L390.26,250.18 L391.22,252.01 L392.18,253.92 L393.14,255.93 L394.1,258.04 L395.06,260.25 L396.03,262.58 L396.99,265.02 L397.95,267.61 L398.91,270.34 L399.87,273.24 L400.84,276.32 L401.8,279.62 L402.76,283.16 L403.72,286.98 L404.68,291.14 L405.64,295.72 L406.61,300.82 L407.57,306.61 L408.53,313.39 L409.49,321.72 L410.45,333.14 L411.42,366.46 L411.42,367.05 L412.2,346.06 L412.99,337.49 L413.78,331 L414.57,325.6 L415.35,320.91 L416.14,316.72 L416.93,312.93 L417.72,309.45 L418.5,306.22 L419.29,303.22 L420.08,300.41 L420.87,297.77 L421.65,295.27 L422.44,292.91 L423.23,290.67 L424.02,288.54 L424.8,286.52 L425.59,284.58 L426.38,282.74 L427.17,280.98 L427.95,279.29 L428.74,277.68 L429.53,276.14 L430.32,274.66 L431.1,273.25 L431.89,271.89 L432.68,270.6 L433.47,269.35 L434.25,268.17 L435.04,267.03 L435.83,265.94 L436.62,264.9 L437.4,263.9 L438.19,262.95 L438.98,262.05 L439.77,261.19 L440.55,260.36 L441.34,259.58 L442.13,258.84 L442.92,258.14 L443.7,257.48 L444.49,256.85 L445.28,256.26 L446.07,255.71 L446.85,255.19 L447.64,254.71 L448.43,254.26 L449.22,253.85 L450,253.47 L450.79,253.12 L451.58,252.81 L452.37,252.53 L453.15,252.29 L453.94,252.07 L454.73,251.89 L455.52,251.74 L456.3,251.63 L457.09,251.54 L457.88,251.49 L458.67,251.47 L459.46,251.48 L460.24,251.52 L461.03,251.58 L461.82,251.67 L462.61,251.78 L463.39,251.93 L464.18,252.1 L464.97,252.29 L465.76,252.52 L466.54,252.77 L467.33,253.05 L468.12,253.36 L468.91,253.69 L469.69,254.06 L470.48,254.45 L471.27,254.87 L472.06,255.32 L472.84,255.81 L473.63,256.32 L474.42,256.87 L475.21,257.45 L475.99,258.06 L476.78,258.71 L477.57,259.39 L478.36,260.11 L479.14,260.86 L479.93,261.65 L480.72,262.48 L481.51,263.36 L482.29,264.27 L483.08,265.23 L483.87,266.23 L484.66,267.28 L485.44,268.38 L486.23,269.53 L487.02,270.73 L487.81,271.99 L488.59,273.32 L489.38,274.7 L490.17,276.16 L490.96,277.68 L491.74,279.29 L492.53,280.98 L493.32,282.76 L494.11,284.63 L494.89,286.62 L495.68,288.72 L496.47,290.96 L497.26,293.35 L498.04,295.91 L498.83,298.66 L499.62,301.65 L500.41,304.9 L501.19,308.5 L501.98,312.52 L502.77,317.11 L503.56,322.51 L504.34,329.2 L505.13,338.46 L505.92,367.05 L506.26,355.13 L506.6,350.23 L506.94,346.49 L507.28,343.35 L507.62,340.61 L507.96,338.14 L508.3,335.88 L508.63,333.8 L508.97,331.85 L509.31,330.01 L509.65,328.28 L509.99,326.64 L510.33,325.07 L510.67,323.57 L511.01,322.14 L511.35,320.76 L511.69,319.43 L512.03,318.15 L512.37,316.91 L512.71,315.71 L513.05,314.55 L513.38,313.42 L513.72,312.33 L514.06,311.27 L514.4,310.24 L514.74,309.23 L515.08,308.25 L515.42,307.3 L515.76,306.37" fill="none" stroke="#80a02c" stroke-width="1.1" stroke-dasharray="5,4.5"/>
<path d="M296,367.44 L296.98,332.45 L297.96,320.48 L298.94,311.75 L299.92,304.67 L300.9,298.62 L301.88,293.3 L302.85,288.53 L303.83,284.21 L304.81,280.24 L305.79,276.57 L306.77,273.16 L307.75,269.98 L308.73,266.99 L309.71,264.18 L310.69,261.53 L311.67,259.03 L312.65,256.66 L313.63,254.4 L314.61,252.27 L315.58,250.23 L316.56,248.3 L317.54,246.45 L318.52,244.7 L319.5,243.02 L320.48,241.43 L321.46,239.91 L322.44,238.46 L323.42,237.07 L324.4,235.76 L325.38,234.5 L326.36,233.31 L327.33,232.17 L328.31,231.09 L329.29,230.07 L330.27,229.1 L331.25,228.18 L332.23,227.31 L333.21,226.49 L334.19,225.71 L335.17,224.99 L336.15,224.31 L337.13,223.68 L338.11,223.09 L339.09,222.54 L340.06,222.04 L341.04,221.58 L342.02,221.16 L343,220.78 L343.98,220.44 L344.96,220.15 L345.94,219.89 L346.92,219.68 L347.9,219.5 L348.88,219.37 L349.86,219.27 L350.84,219.21 L351.82,219.2 L352.79,219.21 L353.77,219.26 L354.75,219.35 L355.73,219.46 L356.71,219.61 L357.69,219.79 L358.67,220 L359.65,220.24 L360.63,220.52 L361.61,220.83 L362.59,221.17 L363.57,221.55 L364.55,221.96 L365.52,222.41 L366.5,222.89 L367.48,223.41 L368.46,223.96 L369.44,224.55 L370.42,225.18 L371.4,225.84 L372.38,226.54 L373.36,227.29 L374.34,228.07 L375.32,228.89 L376.3,229.76 L377.27,230.66 L378.25,231.62 L379.23,232.61 L380.21,233.66 L381.19,234.75 L382.17,235.89 L383.15,237.08 L384.13,238.33 L385.11,239.63 L386.09,240.99 L387.07,242.41 L388.05,243.89 L389.03,245.43 L390,247.05 L390.98,248.73 L391.96,250.5 L392.94,252.34 L393.92,254.27 L394.9,256.29 L395.88,258.41 L396.86,260.64 L397.84,262.98 L398.82,265.44 L399.8,268.04 L400.78,270.79 L401.76,273.7 L402.73,276.81 L403.71,280.12 L404.69,283.68 L405.67,287.53 L406.65,291.71 L407.63,296.31 L408.61,301.44 L409.59,307.27 L410.57,314.08 L411.55,322.46 L412.53,333.94 L413.51,367.44 L413.51,358.95 L414.31,343.1 L415.11,335.85 L415.91,330.21 L416.71,325.45 L417.51,321.26 L418.31,317.48 L419.11,314.04 L419.91,310.85 L420.71,307.89 L421.51,305.12 L422.32,302.51 L423.12,300.05 L423.92,297.71 L424.72,295.5 L425.52,293.4 L426.32,291.39 L427.12,289.48 L427.92,287.65 L428.72,285.9 L429.52,284.23 L430.32,282.63 L431.13,281.09 L431.93,279.62 L432.73,278.21 L433.53,276.86 L434.33,275.57 L435.13,274.33 L435.93,273.14 L436.73,272.01 L437.53,270.92 L438.33,269.88 L439.13,268.88 L439.93,267.93 L440.74,267.02 L441.54,266.16 L442.34,265.33 L443.14,264.55 L443.94,263.8 L444.74,263.1 L445.54,262.43 L446.34,261.8 L447.14,261.21 L447.94,260.66 L448.74,260.14 L449.54,259.65 L450.35,259.2 L451.15,258.79 L451.95,258.4 L452.75,258.06 L453.55,257.74 L454.35,257.46 L455.15,257.22 L455.95,257 L456.75,256.82 L457.55,256.67 L458.35,256.56 L459.16,256.48 L459.96,256.42 L460.76,256.41 L461.56,256.42 L462.36,256.45 L463.16,256.51 L463.96,256.6 L464.76,256.71 L465.56,256.84 L466.36,257 L467.16,257.19 L467.96,257.4 L468.77,257.64 L469.57,257.9 L470.37,258.19 L471.17,258.51 L471.97,258.85 L472.77,259.22 L473.57,259.62 L474.37,260.04 L475.17,260.5 L475.97,260.98 L476.77,261.49 L477.58,262.04 L478.38,262.61 L479.18,263.21 L479.98,263.85 L480.78,264.52 L481.58,265.22 L482.38,265.96 L483.18,266.73 L483.98,267.54 L484.78,268.39 L485.58,269.27 L486.38,270.2 L487.19,271.17 L487.99,272.18 L488.79,273.24 L489.59,274.34 L490.39,275.5 L491.19,276.7 L491.99,277.97 L492.79,279.29 L493.59,280.67 L494.39,282.12 L495.19,283.64 L496,285.24 L496.8,286.91 L497.6,288.68 L498.4,290.54 L499.2,292.51 L500,294.59 L500.8,296.81 L501.6,299.18 L502.4,301.72 L503.2,304.46 L504,307.43 L504.8,310.7 L505.61,314.33 L506.41,318.44 L507.21,323.22 L508.01,329.07 L508.81,336.99 L509.61,358.95 L509.82,351.27 L510.03,348.1 L510.25,345.67 L510.46,343.64 L510.67,341.85 L510.88,340.24 L511.09,338.76 L511.31,337.39 L511.52,336.11 L511.73,334.91 L511.94,333.76 L512.15,332.68 L512.37,331.64 L512.58,330.64 L512.79,329.68 L513,328.76 L513.22,327.87 L513.43,327 L513.64,326.17 L513.85,325.36 L514.06,324.57 L514.28,323.81 L514.49,323.06 L514.7,322.33 L514.91,321.63 L515.12,320.93 L515.34,320.26 L515.55,319.6 L515.76,318.95" fill="none" stroke="#2a2ad8" stroke-width="1.3" stroke-dasharray="1,0.9"/>
</g>
<rect x="296.3" y="215" width="218.7" height="163.7" fill="none" stroke="#333" stroke-width="1"/>
<path d="M296,378.7 v-2.3 M296,215 v2.3 M337,378.7 v-2.3 M337,215 v2.3 M378,378.7 v-2.3 M378,215 v2.3 M419,378.7 v-2.3 M419,215 v2.3 M460,378.7 v-2.3 M460,215 v2.3 M501,378.7 v-2.3 M501,215 v2.3 M296.3,378.3 h2.3 M515,378.3 h-2.3 M296.3,328.95 h2.3 M515,328.95 h-2.3 M296.3,279.6 h2.3 M515,279.6 h-2.3 M296.3,230.25 h2.3 M515,230.25 h-2.3 " stroke="#333" stroke-width="0.9" fill="none"/>
<line x1="301.5" y1="328.6" x2="321.3" y2="328.6" stroke="#e8141c" stroke-width="1.5"/>
<circle cx="311.4" cy="341.8" r="1.9" fill="none" stroke="#444" stroke-width="0.6"/>
<line x1="301.5" y1="355.3" x2="321.3" y2="355.3" stroke="#80a02c" stroke-width="1.1" stroke-dasharray="5,4.5"/>
<line x1="301.5" y1="368.8" x2="321.3" y2="368.8" stroke="#2a2ad8" stroke-width="1.2" stroke-dasharray="1,0.9"/>
<text x="322.7" y="331.6" class="leg" textLength="69.5" lengthAdjust="spacing">Present theory</text>
<text x="322.7" y="344.8" class="leg" textLength="55" lengthAdjust="spacing">Experiment</text>
<text x="322.7" y="358.3" class="leg" textLength="72.8" lengthAdjust="spacing">Keller equation</text>
<text x="322.7" y="371.8" class="leg" textLength="84.6" lengthAdjust="spacing">Geers and Hunter</text>
<text x="296" y="392.5" class="tick" text-anchor="middle">0.00</text>
<text x="337" y="392.5" class="tick" text-anchor="middle">0.01</text>
<text x="378" y="392.5" class="tick" text-anchor="middle">0.02</text>
<text x="419" y="392.5" class="tick" text-anchor="middle">0.03</text>
<text x="460" y="392.5" class="tick" text-anchor="middle">0.04</text>
<text x="501" y="392.5" class="tick" text-anchor="middle">0.05</text>
<text x="292.2" y="382.3" class="tick" text-anchor="end">0.00</text>
<text x="292.2" y="332.95" class="tick" text-anchor="end">0.05</text>
<text x="292.2" y="283.6" class="tick" text-anchor="end">0.10</text>
<text x="292.2" y="234.25" class="tick" text-anchor="end">0.15</text>
<text x="397" y="402.3" class="ax" textLength="13.2" lengthAdjust="spacingAndGlyphs"><tspan font-style="italic">t</tspan>/s</text>
<text transform="translate(269,308.6) rotate(-90)" class="ax" textLength="22" lengthAdjust="spacingAndGlyphs"><tspan font-style="italic">R</tspan>/m</text>
</g>
<g id="pd">
<text x="4" y="410" class="pl">(d)</text>
<clipPath id="cld"><rect x="36" y="419.3" width="216.5" height="161.99999999999994"/></clipPath>
<g clip-path="url(#cld)">
<path d="M36,572.3 C39.17,572.25 48.5,572.15 55,572 C61.5,571.85 68.33,571.7 75,571.4 C81.67,571.1 88.67,570.72 95,570.2 C101.33,569.68 108,569 113,568.3 C118,567.6 121.67,566.88 125,566 C128.33,565.12 130.83,564.17 133,563 C135.17,561.83 136.67,560.67 138,559 C139.33,557.33 140.23,555.33 141,553 C141.77,550.67 142.22,548.83 142.6,545 C142.98,541.17 143.13,536.67 143.3,530 C143.47,523.33 143.52,511.67 143.6,505 C143.68,498.33 143.7,493.5 143.8,490 C143.9,486.5 143.92,485.5 144.2,484 C144.48,482.5 144.87,481.73 145.5,481 C146.13,480.27 146.42,480 148,479.6 C149.58,479.2 151.33,479.03 155,478.6 C158.67,478.17 165,477.57 170,477 C175,476.43 180,475.87 185,475.2 C190,474.53 195.83,473.73 200,473 C204.17,472.27 207.17,471.6 210,470.8 C212.83,470 215,469.17 217,468.2 C219,467.23 220.5,466.28 222,465 C223.5,463.72 224.92,462.17 226,460.5 C227.08,458.83 227.83,457.08 228.5,455 C229.17,452.92 229.62,450.5 230,448 C230.38,445.5 230.6,443 230.8,440 C231,437 231.08,434.17 231.2,430 C231.32,425.83 231.45,417.5 231.5,415" fill="none" stroke="#e8141c" stroke-width="1.6"/>
<circle cx="36" cy="572.5" r="2.2" fill="none" stroke="#3a3a3a" stroke-width="0.75"/>
<circle cx="43.5" cy="572.3" r="2.2" fill="none" stroke="#3a3a3a" stroke-width="0.75"/>
<circle cx="52.5" cy="574.2" r="2.2" fill="none" stroke="#3a3a3a" stroke-width="0.75"/>
<circle cx="57" cy="573.2" r="2.2" fill="none" stroke="#3a3a3a" stroke-width="0.75"/>
<circle cx="62.5" cy="573" r="2.2" fill="none" stroke="#3a3a3a" stroke-width="0.75"/>
<circle cx="68.5" cy="574" r="2.2" fill="none" stroke="#3a3a3a" stroke-width="0.75"/>
<circle cx="74.5" cy="574.3" r="2.2" fill="none" stroke="#3a3a3a" stroke-width="0.75"/>
<circle cx="81" cy="575" r="2.2" fill="none" stroke="#3a3a3a" stroke-width="0.75"/>
<circle cx="89.5" cy="574.5" r="2.2" fill="none" stroke="#3a3a3a" stroke-width="0.75"/>
<circle cx="96" cy="571.8" r="2.2" fill="none" stroke="#3a3a3a" stroke-width="0.75"/>
<circle cx="104.5" cy="567.5" r="2.2" fill="none" stroke="#3a3a3a" stroke-width="0.75"/>
<circle cx="113" cy="567" r="2.2" fill="none" stroke="#3a3a3a" stroke-width="0.75"/>
<circle cx="119.5" cy="567" r="2.2" fill="none" stroke="#3a3a3a" stroke-width="0.75"/>
<circle cx="124" cy="567.5" r="2.2" fill="none" stroke="#3a3a3a" stroke-width="0.75"/>
<circle cx="128.5" cy="566.5" r="2.2" fill="none" stroke="#3a3a3a" stroke-width="0.75"/>
<circle cx="131.5" cy="565.5" r="2.2" fill="none" stroke="#3a3a3a" stroke-width="0.75"/>
<circle cx="134" cy="564.5" r="2.2" fill="none" stroke="#3a3a3a" stroke-width="0.75"/>
<circle cx="137" cy="563.5" r="2.2" fill="none" stroke="#3a3a3a" stroke-width="0.75"/>
<circle cx="139.5" cy="562.5" r="2.2" fill="none" stroke="#3a3a3a" stroke-width="0.75"/>
<circle cx="142" cy="561" r="2.2" fill="none" stroke="#3a3a3a" stroke-width="0.75"/>
<circle cx="145.5" cy="540" r="2.2" fill="none" stroke="#3a3a3a" stroke-width="0.75"/>
<circle cx="146" cy="532" r="2.2" fill="none" stroke="#3a3a3a" stroke-width="0.75"/>
<circle cx="146.5" cy="524" r="2.2" fill="none" stroke="#3a3a3a" stroke-width="0.75"/>
<circle cx="146.8" cy="516" r="2.2" fill="none" stroke="#3a3a3a" stroke-width="0.75"/>
<circle cx="147" cy="508" r="2.2" fill="none" stroke="#3a3a3a" stroke-width="0.75"/>
<circle cx="147.2" cy="500" r="2.2" fill="none" stroke="#3a3a3a" stroke-width="0.75"/>
<circle cx="147.5" cy="493" r="2.2" fill="none" stroke="#3a3a3a" stroke-width="0.75"/>
<circle cx="147.8" cy="486" r="2.2" fill="none" stroke="#3a3a3a" stroke-width="0.75"/>
<circle cx="148" cy="476" r="2.2" fill="none" stroke="#3a3a3a" stroke-width="0.75"/>
<circle cx="150.5" cy="469.3" r="2.2" fill="none" stroke="#3a3a3a" stroke-width="0.75"/>
<circle cx="159" cy="470.5" r="2.2" fill="none" stroke="#3a3a3a" stroke-width="0.75"/>
<circle cx="169.5" cy="470.2" r="2.2" fill="none" stroke="#3a3a3a" stroke-width="0.75"/>
<circle cx="176.5" cy="471" r="2.2" fill="none" stroke="#3a3a3a" stroke-width="0.75"/>
<circle cx="184.5" cy="470" r="2.2" fill="none" stroke="#3a3a3a" stroke-width="0.75"/>
<circle cx="195" cy="468.5" r="2.2" fill="none" stroke="#3a3a3a" stroke-width="0.75"/>
<circle cx="203.5" cy="466.8" r="2.2" fill="none" stroke="#3a3a3a" stroke-width="0.75"/>
<circle cx="209" cy="464" r="2.2" fill="none" stroke="#3a3a3a" stroke-width="0.75"/>
<circle cx="214.5" cy="460" r="2.2" fill="none" stroke="#3a3a3a" stroke-width="0.75"/>
<circle cx="220.5" cy="455" r="2.2" fill="none" stroke="#3a3a3a" stroke-width="0.75"/>
<circle cx="226" cy="451" r="2.2" fill="none" stroke="#3a3a3a" stroke-width="0.75"/>
<circle cx="228" cy="444.5" r="2.2" fill="none" stroke="#3a3a3a" stroke-width="0.75"/>
<circle cx="229.5" cy="436" r="2.2" fill="none" stroke="#3a3a3a" stroke-width="0.75"/>
<circle cx="230.5" cy="428" r="2.2" fill="none" stroke="#3a3a3a" stroke-width="0.75"/>
<circle cx="231" cy="421.5" r="2.2" fill="none" stroke="#3a3a3a" stroke-width="0.75"/>
<line x1="36" y1="572.8" x2="252.5" y2="572.8" stroke="#80a02c" stroke-width="1.1" stroke-dasharray="5,4.5"/>
<path d="M36,572.3 C39.17,572.25 48.5,572.15 55,572 C61.5,571.85 68.33,571.68 75,571.4 C81.67,571.12 88.67,570.77 95,570.3 C101.33,569.83 108,569.23 113,568.6 C118,567.97 121.67,567.27 125,566.5 C128.33,565.73 130.75,565 133,564 C135.25,563 137,562 138.5,560.5 C140,559 141.08,557.25 142,555 C142.92,552.75 143.5,550.33 144,547 C144.5,543.67 144.75,540.33 145,535 C145.25,529.67 145.37,521.33 145.5,515 C145.63,508.67 145.68,501 145.8,497 C145.92,493 145.92,492.45 146.2,491 C146.48,489.55 146.87,488.93 147.5,488.3 C148.13,487.67 147.92,487.58 150,487.2 C152.08,486.82 155.83,486.4 160,486 C164.17,485.6 170,485.27 175,484.8 C180,484.33 185,483.87 190,483.2 C195,482.53 200.83,481.67 205,480.8 C209.17,479.93 212.17,479.05 215,478 C217.83,476.95 220,475.83 222,474.5 C224,473.17 225.58,471.75 227,470 C228.42,468.25 229.5,466.33 230.5,464 C231.5,461.67 232.33,458.83 233,456 C233.67,453.17 234.08,450 234.5,447 C234.92,444 235.08,440.67 235.5,438 C235.92,435.33 236.33,433 237,431 C237.67,429 238.5,427.33 239.5,426 C240.5,424.67 241.67,423.73 243,423 C244.33,422.27 245.92,421.93 247.5,421.6 C249.08,421.27 251.67,421.1 252.5,421" fill="none" stroke="#2a2ad8" stroke-width="1.3" stroke-dasharray="1,0.9"/>
</g>
<rect x="36" y="419.3" width="216.5" height="161.99999999999994" fill="none" stroke="#333" stroke-width="1"/>
<path d="M35.4,581.3 v-2.3 M35.4,419.3 v2.3 M74.05,581.3 v-2.3 M74.05,419.3 v2.3 M112.7,581.3 v-2.3 M112.7,419.3 v2.3 M151.35,581.3 v-2.3 M151.35,419.3 v2.3 M190,581.3 v-2.3 M190,419.3 v2.3 M228.65,581.3 v-2.3 M228.65,419.3 v2.3 M36,572.8 h2.3 M252.5,572.8 h-2.3 M36,534.8 h2.3 M252.5,534.8 h-2.3 M36,496.8 h2.3 M252.5,496.8 h-2.3 M36,458.8 h2.3 M252.5,458.8 h-2.3 M36,420.8 h2.3 M252.5,420.8 h-2.3 " stroke="#333" stroke-width="0.9" fill="none"/>
<line x1="39.5" y1="428.3" x2="58.8" y2="428.3" stroke="#e8141c" stroke-width="1.5"/>
<circle cx="49.15" cy="441.8" r="1.9" fill="none" stroke="#444" stroke-width="0.6"/>
<line x1="39.5" y1="455.3" x2="58.8" y2="455.3" stroke="#80a02c" stroke-width="1.1" stroke-dasharray="5,4.5"/>
<line x1="39.5" y1="468.8" x2="58.8" y2="468.8" stroke="#2a2ad8" stroke-width="1.2" stroke-dasharray="1,0.9"/>
<text x="60.400000000000006" y="431.3" class="leg" textLength="69.5" lengthAdjust="spacing">Present theory</text>
<text x="60.400000000000006" y="444.8" class="leg" textLength="55" lengthAdjust="spacing">Experiment</text>
<text x="60.400000000000006" y="458.3" class="leg" textLength="72.8" lengthAdjust="spacing">Keller equation</text>
<text x="60.400000000000006" y="471.8" class="leg" textLength="84.6" lengthAdjust="spacing">Geers and Hunter</text>
<text x="35.4" y="594.6" class="tick" text-anchor="middle">0.00</text>
<text x="74.05" y="594.6" class="tick" text-anchor="middle">0.01</text>
<text x="112.7" y="594.6" class="tick" text-anchor="middle">0.02</text>
<text x="151.35" y="594.6" class="tick" text-anchor="middle">0.03</text>
<text x="190" y="594.6" class="tick" text-anchor="middle">0.04</text>
<text x="228.65" y="594.6" class="tick" text-anchor="middle">0.05</text>
<text x="31.6" y="576.6" class="tick" text-anchor="end">0.00</text>
<text x="31.6" y="538.6" class="tick" text-anchor="end">0.01</text>
<text x="31.6" y="500.6" class="tick" text-anchor="end">0.02</text>
<text x="31.6" y="462.6" class="tick" text-anchor="end">0.03</text>
<text x="31.6" y="424.6" class="tick" text-anchor="end">0.04</text>
<text x="134" y="605.7" class="ax" textLength="13.2" lengthAdjust="spacingAndGlyphs"><tspan font-style="italic">t</tspan>/s</text>
<text transform="translate(9.3,524) rotate(-90)" class="ax" textLength="63" lengthAdjust="spacingAndGlyphs">Migration/m</text>
</g>
<g id="pe">
<text x="265" y="410" class="pl">(e)</text>
<clipPath id="cle"><rect x="297.5" y="419.3" width="216.79999999999995" height="161.99999999999994"/></clipPath>
<g clip-path="url(#cle)">
<path d="M297.5,573.78 L297.93,573.77 L298.37,573.76 L298.8,573.75 L299.23,573.74 L299.67,573.73 L300.1,573.72 L300.54,573.71 L300.97,573.7 L301.4,573.69 L301.84,573.68 L302.27,573.67 L302.7,573.66 L303.14,573.65 L303.57,573.64 L304,573.62 L304.44,573.61 L304.87,573.6 L305.3,573.59 L305.74,573.58 L306.17,573.57 L306.61,573.56 L307.04,573.55 L307.47,573.54 L307.91,573.52 L308.34,573.51 L308.77,573.5 L309.21,573.49 L309.64,573.48 L310.07,573.46 L310.51,573.45 L310.94,573.44 L311.38,573.43 L311.81,573.42 L312.24,573.4 L312.68,573.39 L313.11,573.38 L313.54,573.37 L313.98,573.35 L314.41,573.34 L314.84,573.33 L315.28,573.31 L315.71,573.3 L316.14,573.29 L316.58,573.27 L317.01,573.26 L317.45,573.25 L317.88,573.23 L318.31,573.22 L318.75,573.2 L319.18,573.19 L319.61,573.17 L320.05,573.16 L320.48,573.15 L320.91,573.13 L321.35,573.12 L321.78,573.1 L322.22,573.08 L322.65,573.07 L323.08,573.05 L323.52,573.04 L323.95,573.02 L324.38,573.01 L324.82,572.99 L325.25,572.97 L325.68,572.96 L326.12,572.94 L326.55,572.92 L326.98,572.91 L327.42,572.89 L327.85,572.87 L328.29,572.86 L328.72,572.84 L329.15,572.82 L329.59,572.8 L330.02,572.79 L330.45,572.77 L330.89,572.75 L331.32,572.73 L331.75,572.71 L332.19,572.69 L332.62,572.67 L333.06,572.65 L333.49,572.64 L333.92,572.62 L334.36,572.6 L334.79,572.58 L335.22,572.56 L335.66,572.53 L336.09,572.51 L336.52,572.49 L336.96,572.47 L337.39,572.45 L337.82,572.43 L338.26,572.41 L338.69,572.39 L339.13,572.36 L339.56,572.34 L339.99,572.32 L340.43,572.29 L340.86,572.27 L341.29,572.25 L341.73,572.22 L342.16,572.2 L342.59,572.18 L343.03,572.15 L343.46,572.13 L343.9,572.1 L344.33,572.08 L344.76,572.05 L345.2,572.02 L345.63,572 L346.06,571.97 L346.5,571.94 L346.93,571.92 L347.36,571.89 L347.8,571.86 L348.23,571.83 L348.66,571.81 L349.1,571.78 L349.53,571.75 L349.97,571.72 L350.4,571.69 L350.83,571.66 L351.27,571.63 L351.7,571.6 L352.13,571.56 L352.57,571.53 L353,571.5 L353.43,571.47 L353.87,571.43 L354.3,571.4 L354.74,571.37 L355.17,571.33 L355.6,571.3 L356.04,571.26 L356.47,571.23 L356.9,571.19 L357.34,571.15 L357.77,571.12 L358.2,571.08 L358.64,571.04 L359.07,571 L359.5,570.96 L359.94,570.92 L360.37,570.88 L360.81,570.84 L361.24,570.8 L361.67,570.76 L362.11,570.72 L362.54,570.67 L362.97,570.63 L363.41,570.58 L363.84,570.54 L364.27,570.49 L364.71,570.45 L365.14,570.4 L365.58,570.35 L366.01,570.3 L366.44,570.25 L366.88,570.2 L367.31,570.15 L367.74,570.1 L368.18,570.05 L368.61,569.99 L369.04,569.94 L369.48,569.88 L369.91,569.83 L370.34,569.77 L370.78,569.71 L371.21,569.65 L371.65,569.59 L372.08,569.53 L372.51,569.47 L372.95,569.41 L373.38,569.34 L373.81,569.28 L374.25,569.21 L374.68,569.14 L375.11,569.07 L375.55,569 L375.98,568.93 L376.42,568.86 L376.85,568.79 L377.28,568.71 L377.72,568.64 L378.15,568.56 L378.58,568.48 L379.02,568.4 L379.45,568.31 L379.88,568.23 L380.32,568.14 L380.75,568.06 L381.18,567.97 L381.62,567.88 L382.05,567.78 L382.49,567.69 L382.92,567.59 L383.35,567.49 L383.79,567.39 L384.22,567.29 L384.65,567.18 L385.09,567.08 L385.52,566.97 L385.95,566.85 L386.39,566.74 L386.82,566.62 L387.26,566.5 L387.69,566.38 L388.12,566.25 L388.56,566.12 L388.99,565.99 L389.42,565.86 L389.86,565.72 L390.29,565.58 L390.72,565.43 L391.16,565.28 L391.59,565.13 L392.02,564.98 L392.46,564.81 L392.89,564.65 L393.33,564.48 L393.76,564.31 L394.19,564.13 L394.63,563.95 L395.06,563.76 L395.49,563.57 L395.93,563.37 L396.36,563.16 L396.79,562.95 L397.23,562.74 L397.66,562.51 L398.1,562.28 L398.53,562.05 L398.96,561.8 L399.4,561.55 L399.83,561.29 L400.26,561.02 L400.7,560.74 L401.13,560.46 L401.56,560.16 L402,559.86 L402.43,559.54 L402.86,559.21 L403.3,558.87 L403.73,558.52 L404.17,558.15 L404.6,557.78 L405.03,557.38 L405.47,556.98 L405.9,556.55 L406.33,556.11 L406.77,555.65 L407.2,555.17 L407.63,554.68 L408.07,554.16 L408.5,553.62 L408.94,553.05 L409.37,552.46 L409.8,551.84 L410.24,551.2 L410.67,550.52 L411.1,549.81 L411.54,549.07 L411.97,548.29 L412.4,547.47 L412.84,546.6 L413.27,545.7 L413.7,544.74 L414.14,543.73 L414.57,542.66 L415.01,541.54 L415.44,540.35 L415.87,539.09 L416.31,537.75 L416.74,536.33 L417.17,534.83 L417.61,533.24 L418.04,531.55 L418.47,529.75 L418.91,527.85 L419.34,525.83 L419.78,523.69 L420.21,521.43 L420.64,519.06 L421.08,516.59 L421.51,514.05 L421.94,511.51 L422.38,509.14 L422.81,509.77 L423.24,513.03 L423.68,516.51 L424.11,519.93 L424.54,523.19 L424.98,526.25 L425.41,529.09 L425.85,531.72 L426.28,534.15 L426.71,536.38 L427.15,538.44 L427.58,540.34 L428.01,542.1 L428.45,543.72 L428.88,545.22 L429.31,546.61 L429.75,547.9 L430.18,549.1 L430.62,550.22 L431.05,551.26 L431.48,552.23 L431.92,553.14 L432.35,554 L432.78,554.8 L433.22,555.55 L433.65,556.26 L434.08,556.93 L434.52,557.56 L434.95,558.15 L435.38,558.72 L435.82,559.25 L436.25,559.76 L436.69,560.24 L437.12,560.7 L437.55,561.13 L437.99,561.54 L438.42,561.94 L438.85,562.31 L439.29,562.67 L439.72,563.02 L440.15,563.34 L440.59,563.66 L441.02,563.96 L441.46,564.25 L441.89,564.52 L442.32,564.79 L442.76,565.05 L443.19,565.29 L443.62,565.53 L444.06,565.75 L444.49,565.97 L444.92,566.18 L445.36,566.39 L445.79,566.58 L446.22,566.77 L446.66,566.95 L447.09,567.13 L447.53,567.3 L447.96,567.47 L448.39,567.63 L448.83,567.78 L449.26,567.93 L449.69,568.08 L450.13,568.22 L450.56,568.35 L450.99,568.49 L451.43,568.61 L451.86,568.74 L452.3,568.86 L452.73,568.98 L453.16,569.09 L453.6,569.2 L454.03,569.31 L454.46,569.42 L454.9,569.52 L455.33,569.62 L455.76,569.71 L456.2,569.81 L456.63,569.9 L457.06,569.99 L457.5,570.08 L457.93,570.16 L458.37,570.25 L458.8,570.33 L459.23,570.41 L459.67,570.48 L460.1,570.56 L460.53,570.63 L460.97,570.71 L461.4,570.78 L461.83,570.85 L462.27,570.91 L462.7,570.98 L463.14,571.04 L463.57,571.11 L464,571.17 L464.44,571.23 L464.87,571.29 L465.3,571.34 L465.74,571.4 L466.17,571.46 L466.6,571.51 L467.04,571.56 L467.47,571.62 L467.9,571.67 L468.34,571.72 L468.77,571.77 L469.21,571.81 L469.64,571.86 L470.07,571.91 L470.51,571.95 L470.94,572 L471.37,572.04 L471.81,572.08 L472.24,572.13 L472.67,572.17 L473.11,572.21 L473.54,572.25 L473.98,572.29 L474.41,572.33 L474.84,572.36 L475.28,572.4 L475.71,572.44 L476.14,572.47 L476.58,572.51 L477.01,572.54 L477.44,572.58 L477.88,572.61 L478.31,572.64 L478.74,572.68 L479.18,572.71 L479.61,572.74 L480.05,572.77 L480.48,572.8 L480.91,572.83 L481.35,572.86 L481.78,572.89 L482.21,572.92 L482.65,572.95 L483.08,572.97 L483.51,573 L483.95,573.03 L484.38,573.06 L484.82,573.08 L485.25,573.11 L485.68,573.13 L486.12,573.16 L486.55,573.18 L486.98,573.21 L487.42,573.23 L487.85,573.25 L488.28,573.28 L488.72,573.3 L489.15,573.32 L489.58,573.35 L490.02,573.37 L490.45,573.39 L490.89,573.41 L491.32,573.43 L491.75,573.45 L492.19,573.47 L492.62,573.49 L493.05,573.51 L493.49,573.53 L493.92,573.55 L494.35,573.57 L494.79,573.59 L495.22,573.61 L495.66,573.63 L496.09,573.65 L496.52,573.66 L496.96,573.68 L497.39,573.7 L497.82,573.72 L498.26,573.73 L498.69,573.75 L499.12,573.77 L499.56,573.78 L499.99,573.8 L500.42,573.82 L500.86,573.83 L501.29,573.85 L501.73,573.86 L502.16,573.88 L502.59,573.89 L503.03,573.91 L503.46,573.92 L503.89,573.94 L504.33,573.95 L504.76,573.97 L505.19,573.98 L505.63,573.99 L506.06,574.01 L506.5,574.02 L506.93,574.04 L507.36,574.05 L507.8,574.06 L508.23,574.08 L508.66,574.09 L509.1,574.1 L509.53,574.11 L509.96,574.13 L510.4,574.14 L510.83,574.15 L511.26,574.16 L511.7,574.18 L512.13,574.19 L512.57,574.2 L513,574.21 L513.43,574.22 L513.87,574.23 L514.3,574.24" fill="none" stroke="#e8141c" stroke-width="1.6"/>
<rect x="300.65" y="573.25" width="2.7" height="2.7" fill="none" stroke="#5a4a30" stroke-width="0.6"/>
<rect x="316.65" y="573.45" width="2.7" height="2.7" fill="none" stroke="#5a4a30" stroke-width="0.6"/>
<rect x="339.15" y="569.35" width="2.7" height="2.7" fill="none" stroke="#5a4a30" stroke-width="0.6"/>
<rect x="349.65" y="567.95" width="2.7" height="2.7" fill="none" stroke="#5a4a30" stroke-width="0.6"/>
<rect x="362.85" y="566.85" width="2.7" height="2.7" fill="none" stroke="#5a4a30" stroke-width="0.6"/>
<rect x="377.85" y="565.85" width="2.7" height="2.7" fill="none" stroke="#5a4a30" stroke-width="0.6"/>
<rect x="392.15" y="562.65" width="2.7" height="2.7" fill="none" stroke="#5a4a30" stroke-width="0.6"/>
<rect x="399.65" y="559.25" width="2.7" height="2.7" fill="none" stroke="#5a4a30" stroke-width="0.6"/>
<rect x="406.65" y="552.65" width="2.7" height="2.7" fill="none" stroke="#5a4a30" stroke-width="0.6"/>
<rect x="410.65" y="546.65" width="2.7" height="2.7" fill="none" stroke="#5a4a30" stroke-width="0.6"/>
<rect x="413.85" y="539.65" width="2.7" height="2.7" fill="none" stroke="#5a4a30" stroke-width="0.6"/>
<rect x="415.65" y="533.45" width="2.7" height="2.7" fill="none" stroke="#5a4a30" stroke-width="0.6"/>
<rect x="417.65" y="527.65" width="2.7" height="2.7" fill="none" stroke="#5a4a30" stroke-width="0.6"/>
<rect x="419.25" y="522.35" width="2.7" height="2.7" fill="none" stroke="#5a4a30" stroke-width="0.6"/>
<rect x="420.65" y="517.45" width="2.7" height="2.7" fill="none" stroke="#5a4a30" stroke-width="0.6"/>
<rect x="421.95" y="519.65" width="2.7" height="2.7" fill="none" stroke="#5a4a30" stroke-width="0.6"/>
<rect x="422.95" y="524.65" width="2.7" height="2.7" fill="none" stroke="#5a4a30" stroke-width="0.6"/>
<rect x="424.25" y="531.65" width="2.7" height="2.7" fill="none" stroke="#5a4a30" stroke-width="0.6"/>
<rect x="425.95" y="538.65" width="2.7" height="2.7" fill="none" stroke="#5a4a30" stroke-width="0.6"/>
<rect x="427.95" y="545.05" width="2.7" height="2.7" fill="none" stroke="#5a4a30" stroke-width="0.6"/>
<rect x="430.85" y="552.45" width="2.7" height="2.7" fill="none" stroke="#5a4a30" stroke-width="0.6"/>
<rect x="434.15" y="557.15" width="2.7" height="2.7" fill="none" stroke="#5a4a30" stroke-width="0.6"/>
<rect x="437.65" y="560.65" width="2.7" height="2.7" fill="none" stroke="#5a4a30" stroke-width="0.6"/>
<rect x="444.65" y="564.65" width="2.7" height="2.7" fill="none" stroke="#5a4a30" stroke-width="0.6"/>
<rect x="453.65" y="567.95" width="2.7" height="2.7" fill="none" stroke="#5a4a30" stroke-width="0.6"/>
<rect x="461.65" y="570.45" width="2.7" height="2.7" fill="none" stroke="#5a4a30" stroke-width="0.6"/>
<rect x="473.95" y="572.05" width="2.7" height="2.7" fill="none" stroke="#5a4a30" stroke-width="0.6"/>
<rect x="491.65" y="573.15" width="2.7" height="2.7" fill="none" stroke="#5a4a30" stroke-width="0.6"/>
<rect x="508.65" y="574.35" width="2.7" height="2.7" fill="none" stroke="#5a4a30" stroke-width="0.6"/>
<rect x="331.2" y="571.6" width="2.8" height="2.8" fill="#3c2c4c" stroke="#3c2c4c" stroke-width="0.5"/>
<path d="M297.5,573.86 L297.93,573.85 L298.37,573.84 L298.8,573.83 L299.23,573.82 L299.67,573.81 L300.1,573.8 L300.54,573.79 L300.97,573.78 L301.4,573.77 L301.84,573.76 L302.27,573.75 L302.7,573.74 L303.14,573.73 L303.57,573.72 L304,573.71 L304.44,573.7 L304.87,573.69 L305.3,573.68 L305.74,573.67 L306.17,573.66 L306.61,573.65 L307.04,573.64 L307.47,573.62 L307.91,573.61 L308.34,573.6 L308.77,573.59 L309.21,573.58 L309.64,573.57 L310.07,573.56 L310.51,573.54 L310.94,573.53 L311.38,573.52 L311.81,573.51 L312.24,573.5 L312.68,573.48 L313.11,573.47 L313.54,573.46 L313.98,573.45 L314.41,573.43 L314.84,573.42 L315.28,573.41 L315.71,573.39 L316.14,573.38 L316.58,573.37 L317.01,573.36 L317.45,573.34 L317.88,573.33 L318.31,573.31 L318.75,573.3 L319.18,573.29 L319.61,573.27 L320.05,573.26 L320.48,573.24 L320.91,573.23 L321.35,573.22 L321.78,573.2 L322.22,573.19 L322.65,573.17 L323.08,573.16 L323.52,573.14 L323.95,573.12 L324.38,573.11 L324.82,573.09 L325.25,573.08 L325.68,573.06 L326.12,573.05 L326.55,573.03 L326.98,573.01 L327.42,573 L327.85,572.98 L328.29,572.96 L328.72,572.95 L329.15,572.93 L329.59,572.91 L330.02,572.89 L330.45,572.88 L330.89,572.86 L331.32,572.84 L331.75,572.82 L332.19,572.8 L332.62,572.78 L333.06,572.77 L333.49,572.75 L333.92,572.73 L334.36,572.71 L334.79,572.69 L335.22,572.67 L335.66,572.65 L336.09,572.63 L336.52,572.61 L336.96,572.59 L337.39,572.57 L337.82,572.54 L338.26,572.52 L338.69,572.5 L339.13,572.48 L339.56,572.46 L339.99,572.44 L340.43,572.41 L340.86,572.39 L341.29,572.37 L341.73,572.34 L342.16,572.32 L342.59,572.3 L343.03,572.27 L343.46,572.25 L343.9,572.22 L344.33,572.2 L344.76,572.17 L345.2,572.15 L345.63,572.12 L346.06,572.1 L346.5,572.07 L346.93,572.04 L347.36,572.02 L347.8,571.99 L348.23,571.96 L348.66,571.93 L349.1,571.9 L349.53,571.88 L349.97,571.85 L350.4,571.82 L350.83,571.79 L351.27,571.76 L351.7,571.73 L352.13,571.7 L352.57,571.67 L353,571.63 L353.43,571.6 L353.87,571.57 L354.3,571.54 L354.74,571.5 L355.17,571.47 L355.6,571.43 L356.04,571.4 L356.47,571.36 L356.9,571.33 L357.34,571.29 L357.77,571.26 L358.2,571.22 L358.64,571.18 L359.07,571.14 L359.5,571.1 L359.94,571.07 L360.37,571.03 L360.81,570.98 L361.24,570.94 L361.67,570.9 L362.11,570.86 L362.54,570.82 L362.97,570.77 L363.41,570.73 L363.84,570.69 L364.27,570.64 L364.71,570.59 L365.14,570.55 L365.58,570.5 L366.01,570.45 L366.44,570.4 L366.88,570.35 L367.31,570.3 L367.74,570.25 L368.18,570.2 L368.61,570.15 L369.04,570.09 L369.48,570.04 L369.91,569.98 L370.34,569.93 L370.78,569.87 L371.21,569.81 L371.65,569.75 L372.08,569.69 L372.51,569.63 L372.95,569.57 L373.38,569.5 L373.81,569.44 L374.25,569.37 L374.68,569.3 L375.11,569.24 L375.55,569.17 L375.98,569.1 L376.42,569.02 L376.85,568.95 L377.28,568.88 L377.72,568.8 L378.15,568.72 L378.58,568.64 L379.02,568.56 L379.45,568.48 L379.88,568.39 L380.32,568.31 L380.75,568.22 L381.18,568.13 L381.62,568.04 L382.05,567.95 L382.49,567.85 L382.92,567.76 L383.35,567.66 L383.79,567.56 L384.22,567.45 L384.65,567.35 L385.09,567.24 L385.52,567.13 L385.95,567.02 L386.39,566.9 L386.82,566.78 L387.26,566.66 L387.69,566.54 L388.12,566.41 L388.56,566.28 L388.99,566.15 L389.42,566.01 L389.86,565.87 L390.29,565.73 L390.72,565.59 L391.16,565.44 L391.59,565.28 L392.02,565.12 L392.46,564.96 L392.89,564.79 L393.33,564.62 L393.76,564.45 L394.19,564.26 L394.63,564.08 L395.06,563.89 L395.49,563.69 L395.93,563.49 L396.36,563.28 L396.79,563.06 L397.23,562.84 L397.66,562.61 L398.1,562.38 L398.53,562.13 L398.96,561.88 L399.4,561.62 L399.83,561.35 L400.26,561.08 L400.7,560.79 L401.13,560.49 L401.56,560.18 L402,559.87 L402.43,559.54 L402.86,559.19 L403.3,558.84 L403.73,558.47 L404.17,558.08 L404.6,557.69 L405.03,557.27 L405.47,556.84 L405.9,556.39 L406.33,555.91 L406.77,555.42 L407.2,554.91 L407.63,554.37 L408.07,553.81 L408.5,553.21 L408.94,552.59 L409.37,551.94 L409.8,551.25 L410.24,550.53 L410.67,549.76 L411.1,548.95 L411.54,548.09 L411.97,547.18 L412.4,546.2 L412.84,545.16 L413.27,544.04 L413.7,542.84 L414.14,541.53 L414.57,540.11 L415.01,538.55 L415.44,536.83 L415.87,534.9 L416.31,532.73 L416.74,530.23 L417.17,527.31 L417.61,523.84 L418.04,519.6 L418.47,514.29 L418.91,507.51 L419.34,498.76 L419.78,487.7 L420.21,474.77 L420.64,462.18 L421.08,453.54 L421.51,451.07 L421.94,456.47 L422.38,467.65 L422.81,481.62 L423.24,494.92 L423.68,505.97 L424.11,514.67 L424.54,521.48 L424.98,526.87 L425.41,531.22 L425.85,534.81 L426.28,537.83 L426.71,540.41 L427.15,542.66 L427.58,544.64 L428.01,546.39 L428.45,547.96 L428.88,549.38 L429.31,550.66 L429.75,551.84 L430.18,552.91 L430.62,553.9 L431.05,554.82 L431.48,555.67 L431.92,556.46 L432.35,557.19 L432.78,557.88 L433.22,558.52 L433.65,559.13 L434.08,559.7 L434.52,560.23 L434.95,560.73 L435.38,561.21 L435.82,561.66 L436.25,562.09 L436.69,562.49 L437.12,562.88 L437.55,563.25 L437.99,563.59 L438.42,563.93 L438.85,564.24 L439.29,564.55 L439.72,564.83 L440.15,565.11 L440.59,565.38 L441.02,565.63 L441.46,565.87 L441.89,566.11 L442.32,566.33 L442.76,566.55 L443.19,566.75 L443.62,566.95 L444.06,567.15 L444.49,567.33 L444.92,567.51 L445.36,567.68 L445.79,567.85 L446.22,568.01 L446.66,568.16 L447.09,568.31 L447.53,568.46 L447.96,568.6 L448.39,568.74 L448.83,568.87 L449.26,569 L449.69,569.12 L450.13,569.24 L450.56,569.35 L450.99,569.47 L451.43,569.58 L451.86,569.68 L452.3,569.79 L452.73,569.89 L453.16,569.99 L453.6,570.08 L454.03,570.17 L454.46,570.26 L454.9,570.35 L455.33,570.44 L455.76,570.52 L456.2,570.6 L456.63,570.68 L457.06,570.76 L457.5,570.83 L457.93,570.91 L458.37,570.98 L458.8,571.05 L459.23,571.12 L459.67,571.18 L460.1,571.25 L460.53,571.31 L460.97,571.37 L461.4,571.43 L461.83,571.49 L462.27,571.55 L462.7,571.61 L463.14,571.66 L463.57,571.72 L464,571.77 L464.44,571.82 L464.87,571.87 L465.3,571.92 L465.74,571.97 L466.17,572.02 L466.6,572.07 L467.04,572.11 L467.47,572.16 L467.9,572.2 L468.34,572.25 L468.77,572.29 L469.21,572.33 L469.64,572.37 L470.07,572.41 L470.51,572.45 L470.94,572.49 L471.37,572.53 L471.81,572.57 L472.24,572.6 L472.67,572.64 L473.11,572.67 L473.54,572.71 L473.98,572.74 L474.41,572.78 L474.84,572.81 L475.28,572.84 L475.71,572.87 L476.14,572.91 L476.58,572.94 L477.01,572.97 L477.44,573 L477.88,573.03 L478.31,573.05 L478.74,573.08 L479.18,573.11 L479.61,573.14 L480.05,573.17 L480.48,573.19 L480.91,573.22 L481.35,573.24 L481.78,573.27 L482.21,573.29 L482.65,573.32 L483.08,573.34 L483.51,573.37 L483.95,573.39 L484.38,573.41 L484.82,573.44 L485.25,573.46 L485.68,573.48 L486.12,573.5 L486.55,573.52 L486.98,573.55 L487.42,573.57 L487.85,573.59 L488.28,573.61 L488.72,573.63 L489.15,573.65 L489.58,573.67 L490.02,573.69 L490.45,573.7 L490.89,573.72 L491.32,573.74 L491.75,573.76 L492.19,573.78 L492.62,573.8 L493.05,573.81 L493.49,573.83 L493.92,573.85 L494.35,573.86 L494.79,573.88 L495.22,573.9 L495.66,573.91 L496.09,573.93 L496.52,573.95 L496.96,573.96 L497.39,573.98 L497.82,573.99 L498.26,574.01 L498.69,574.02 L499.12,574.04 L499.56,574.05 L499.99,574.07 L500.42,574.08 L500.86,574.09 L501.29,574.11 L501.73,574.12 L502.16,574.13 L502.59,574.15 L503.03,574.16 L503.46,574.17 L503.89,574.19 L504.33,574.2 L504.76,574.21 L505.19,574.23 L505.63,574.24 L506.06,574.25 L506.5,574.26 L506.93,574.27 L507.36,574.29 L507.8,574.3 L508.23,574.31 L508.66,574.32 L509.1,574.33 L509.53,574.34 L509.96,574.35 L510.4,574.36 L510.83,574.38 L511.26,574.39 L511.7,574.4 L512.13,574.41 L512.57,574.42 L513,574.43 L513.43,574.44 L513.87,574.45 L514.3,574.46" fill="none" stroke="#80a02c" stroke-width="1.1" stroke-dasharray="5,4.5"/>
<path d="M297.5,573.78 L297.93,573.78 L298.37,573.77 L298.8,573.76 L299.23,573.74 L299.67,573.73 L300.1,573.72 L300.54,573.71 L300.97,573.7 L301.4,573.69 L301.84,573.68 L302.27,573.67 L302.7,573.66 L303.14,573.65 L303.57,573.64 L304,573.63 L304.44,573.62 L304.87,573.61 L305.3,573.6 L305.74,573.58 L306.17,573.57 L306.61,573.56 L307.04,573.55 L307.47,573.54 L307.91,573.53 L308.34,573.51 L308.77,573.5 L309.21,573.49 L309.64,573.48 L310.07,573.47 L310.51,573.45 L310.94,573.44 L311.38,573.43 L311.81,573.42 L312.24,573.4 L312.68,573.39 L313.11,573.38 L313.54,573.36 L313.98,573.35 L314.41,573.34 L314.84,573.32 L315.28,573.31 L315.71,573.3 L316.14,573.28 L316.58,573.27 L317.01,573.26 L317.45,573.24 L317.88,573.23 L318.31,573.21 L318.75,573.2 L319.18,573.19 L319.61,573.17 L320.05,573.16 L320.48,573.14 L320.91,573.13 L321.35,573.11 L321.78,573.1 L322.22,573.08 L322.65,573.06 L323.08,573.05 L323.52,573.03 L323.95,573.02 L324.38,573 L324.82,572.98 L325.25,572.97 L325.68,572.95 L326.12,572.94 L326.55,572.92 L326.98,572.9 L327.42,572.88 L327.85,572.87 L328.29,572.85 L328.72,572.83 L329.15,572.81 L329.59,572.8 L330.02,572.78 L330.45,572.76 L330.89,572.74 L331.32,572.72 L331.75,572.7 L332.19,572.69 L332.62,572.67 L333.06,572.65 L333.49,572.63 L333.92,572.61 L334.36,572.59 L334.79,572.57 L335.22,572.55 L335.66,572.53 L336.09,572.51 L336.52,572.49 L336.96,572.46 L337.39,572.44 L337.82,572.42 L338.26,572.4 L338.69,572.38 L339.13,572.36 L339.56,572.33 L339.99,572.31 L340.43,572.29 L340.86,572.26 L341.29,572.24 L341.73,572.22 L342.16,572.19 L342.59,572.17 L343.03,572.15 L343.46,572.12 L343.9,572.1 L344.33,572.07 L344.76,572.05 L345.2,572.02 L345.63,571.99 L346.06,571.97 L346.5,571.94 L346.93,571.91 L347.36,571.89 L347.8,571.86 L348.23,571.83 L348.66,571.8 L349.1,571.78 L349.53,571.75 L349.97,571.72 L350.4,571.69 L350.83,571.66 L351.27,571.63 L351.7,571.6 L352.13,571.57 L352.57,571.54 L353,571.51 L353.43,571.47 L353.87,571.44 L354.3,571.41 L354.74,571.38 L355.17,571.34 L355.6,571.31 L356.04,571.28 L356.47,571.24 L356.9,571.21 L357.34,571.17 L357.77,571.13 L358.2,571.1 L358.64,571.06 L359.07,571.02 L359.5,570.99 L359.94,570.95 L360.37,570.91 L360.81,570.87 L361.24,570.83 L361.67,570.79 L362.11,570.75 L362.54,570.71 L362.97,570.67 L363.41,570.63 L363.84,570.58 L364.27,570.54 L364.71,570.5 L365.14,570.45 L365.58,570.41 L366.01,570.36 L366.44,570.31 L366.88,570.27 L367.31,570.22 L367.74,570.17 L368.18,570.12 L368.61,570.07 L369.04,570.02 L369.48,569.97 L369.91,569.92 L370.34,569.86 L370.78,569.81 L371.21,569.76 L371.65,569.7 L372.08,569.65 L372.51,569.59 L372.95,569.53 L373.38,569.47 L373.81,569.41 L374.25,569.35 L374.68,569.29 L375.11,569.23 L375.55,569.17 L375.98,569.1 L376.42,569.04 L376.85,568.97 L377.28,568.9 L377.72,568.83 L378.15,568.76 L378.58,568.69 L379.02,568.62 L379.45,568.55 L379.88,568.48 L380.32,568.4 L380.75,568.32 L381.18,568.24 L381.62,568.17 L382.05,568.08 L382.49,568 L382.92,567.92 L383.35,567.83 L383.79,567.75 L384.22,567.66 L384.65,567.57 L385.09,567.48 L385.52,567.39 L385.95,567.29 L386.39,567.19 L386.82,567.1 L387.26,567 L387.69,566.89 L388.12,566.79 L388.56,566.68 L388.99,566.58 L389.42,566.47 L389.86,566.35 L390.29,566.24 L390.72,566.12 L391.16,566 L391.59,565.88 L392.02,565.76 L392.46,565.63 L392.89,565.5 L393.33,565.37 L393.76,565.23 L394.19,565.1 L394.63,564.96 L395.06,564.81 L395.49,564.67 L395.93,564.52 L396.36,564.36 L396.79,564.2 L397.23,564.04 L397.66,563.88 L398.1,563.71 L398.53,563.54 L398.96,563.37 L399.4,563.19 L399.83,563 L400.26,562.81 L400.7,562.62 L401.13,562.42 L401.56,562.22 L402,562.01 L402.43,561.8 L402.86,561.58 L403.3,561.36 L403.73,561.13 L404.17,560.9 L404.6,560.66 L405.03,560.41 L405.47,560.15 L405.9,559.89 L406.33,559.63 L406.77,559.35 L407.2,559.07 L407.63,558.78 L408.07,558.48 L408.5,558.17 L408.94,557.86 L409.37,557.53 L409.8,557.2 L410.24,556.86 L410.67,556.5 L411.1,556.14 L411.54,555.77 L411.97,555.38 L412.4,554.99 L412.84,554.58 L413.27,554.16 L413.7,553.72 L414.14,553.27 L414.57,552.81 L415.01,552.34 L415.44,551.85 L415.87,551.34 L416.31,550.82 L416.74,550.29 L417.17,549.73 L417.61,549.16 L418.04,548.57 L418.47,547.97 L418.91,547.34 L419.34,546.7 L419.78,546.04 L420.21,545.36 L420.64,544.65 L421.08,543.93 L421.51,543.19 L421.94,542.43 L422.38,541.66 L422.81,540.86 L423.24,540.05 L423.68,539.22 L424.11,538.38 L424.54,537.54 L424.98,536.68 L425.41,535.83 L425.85,534.98 L426.28,534.15 L426.71,533.35 L427.15,532.59 L427.58,531.93 L428.01,531.46 L428.45,531.74 L428.88,532.27 L429.31,532.94 L429.75,533.71 L430.18,534.54 L430.62,535.43 L431.05,536.35 L431.48,537.3 L431.92,538.26 L432.35,539.22 L432.78,540.19 L433.22,541.14 L433.65,542.09 L434.08,543.01 L434.52,543.92 L434.95,544.81 L435.38,545.68 L435.82,546.53 L436.25,547.35 L436.69,548.15 L437.12,548.92 L437.55,549.67 L437.99,550.39 L438.42,551.09 L438.85,551.77 L439.29,552.43 L439.72,553.06 L440.15,553.67 L440.59,554.26 L441.02,554.83 L441.46,555.37 L441.89,555.9 L442.32,556.42 L442.76,556.91 L443.19,557.38 L443.62,557.84 L444.06,558.29 L444.49,558.71 L444.92,559.13 L445.36,559.53 L445.79,559.91 L446.22,560.29 L446.66,560.65 L447.09,560.99 L447.53,561.33 L447.96,561.66 L448.39,561.97 L448.83,562.28 L449.26,562.57 L449.69,562.86 L450.13,563.13 L450.56,563.4 L450.99,563.66 L451.43,563.91 L451.86,564.16 L452.3,564.39 L452.73,564.62 L453.16,564.84 L453.6,565.06 L454.03,565.27 L454.46,565.47 L454.9,565.67 L455.33,565.86 L455.76,566.05 L456.2,566.23 L456.63,566.41 L457.06,566.58 L457.5,566.75 L457.93,566.91 L458.37,567.07 L458.8,567.22 L459.23,567.37 L459.67,567.52 L460.1,567.66 L460.53,567.8 L460.97,567.93 L461.4,568.06 L461.83,568.19 L462.27,568.31 L462.7,568.44 L463.14,568.56 L463.57,568.67 L464,568.78 L464.44,568.9 L464.87,569 L465.3,569.11 L465.74,569.21 L466.17,569.31 L466.6,569.41 L467.04,569.51 L467.47,569.6 L467.9,569.69 L468.34,569.78 L468.77,569.87 L469.21,569.95 L469.64,570.04 L470.07,570.12 L470.51,570.2 L470.94,570.28 L471.37,570.36 L471.81,570.43 L472.24,570.51 L472.67,570.58 L473.11,570.65 L473.54,570.72 L473.98,570.79 L474.41,570.85 L474.84,570.92 L475.28,570.98 L475.71,571.05 L476.14,571.11 L476.58,571.17 L477.01,571.23 L477.44,571.29 L477.88,571.34 L478.31,571.4 L478.74,571.45 L479.18,571.51 L479.61,571.56 L480.05,571.61 L480.48,571.66 L480.91,571.71 L481.35,571.76 L481.78,571.81 L482.21,571.86 L482.65,571.9 L483.08,571.95 L483.51,572 L483.95,572.04 L484.38,572.08 L484.82,572.13 L485.25,572.17 L485.68,572.21 L486.12,572.25 L486.55,572.29 L486.98,572.33 L487.42,572.37 L487.85,572.41 L488.28,572.44 L488.72,572.48 L489.15,572.52 L489.58,572.55 L490.02,572.59 L490.45,572.62 L490.89,572.66 L491.32,572.69 L491.75,572.72 L492.19,572.75 L492.62,572.79 L493.05,572.82 L493.49,572.85 L493.92,572.88 L494.35,572.91 L494.79,572.94 L495.22,572.97 L495.66,573 L496.09,573.03 L496.52,573.05 L496.96,573.08 L497.39,573.11 L497.82,573.14 L498.26,573.16 L498.69,573.19 L499.12,573.21 L499.56,573.24 L499.99,573.26 L500.42,573.29 L500.86,573.31 L501.29,573.34 L501.73,573.36 L502.16,573.38 L502.59,573.41 L503.03,573.43 L503.46,573.45 L503.89,573.47 L504.33,573.5 L504.76,573.52 L505.19,573.54 L505.63,573.56 L506.06,573.58 L506.5,573.6 L506.93,573.62 L507.36,573.64 L507.8,573.66 L508.23,573.68 L508.66,573.7 L509.1,573.72 L509.53,573.74 L509.96,573.76 L510.4,573.77 L510.83,573.79 L511.26,573.81 L511.7,573.83 L512.13,573.84 L512.57,573.86 L513,573.88 L513.43,573.89 L513.87,573.91 L514.3,573.93" fill="none" stroke="#2a2ad8" stroke-width="1.3" stroke-dasharray="1,0.9"/>
</g>
<rect x="297.5" y="419.3" width="216.79999999999995" height="161.99999999999994" fill="none" stroke="#333" stroke-width="1"/>
<path d="M299.7,581.3 v-2.3 M299.7,419.3 v2.3 M368.55,581.3 v-2.3 M368.55,419.3 v2.3 M437.4,581.3 v-2.3 M437.4,419.3 v2.3 M506.25,581.3 v-2.3 M506.25,419.3 v2.3 M297.5,576.2 h2.3 M514.3,576.2 h-2.3 M297.5,547.7 h2.3 M514.3,547.7 h-2.3 M297.5,519.2 h2.3 M514.3,519.2 h-2.3 M297.5,490.7 h2.3 M514.3,490.7 h-2.3 M297.5,462.2 h2.3 M514.3,462.2 h-2.3 M297.5,433.7 h2.3 M514.3,433.7 h-2.3 " stroke="#333" stroke-width="0.9" fill="none"/>
<line x1="303" y1="428.3" x2="321.3" y2="428.3" stroke="#e8141c" stroke-width="1.5"/>
<rect x="310.84999999999997" y="440.5" width="2.6" height="2.6" fill="none" stroke="#444" stroke-width="0.6"/>
<line x1="303" y1="455.3" x2="321.3" y2="455.3" stroke="#80a02c" stroke-width="1.1" stroke-dasharray="5,4.5"/>
<line x1="303" y1="468.8" x2="321.3" y2="468.8" stroke="#2a2ad8" stroke-width="1.2" stroke-dasharray="1,0.9"/>
<text x="323.7" y="431.3" class="leg" textLength="69.5" lengthAdjust="spacing">Present theory</text>
<text x="323.7" y="444.8" class="leg" textLength="55" lengthAdjust="spacing">Experiment</text>
<text x="323.7" y="458.3" class="leg" textLength="72.8" lengthAdjust="spacing">Keller equation</text>
<text x="323.7" y="471.8" class="leg" textLength="84.6" lengthAdjust="spacing">Geers and Hunter</text>
<text x="299.7" y="595.4" class="tick" text-anchor="middle">0.0275</text>
<text x="368.55" y="595.4" class="tick" text-anchor="middle">0.0280</text>
<text x="437.4" y="595.4" class="tick" text-anchor="middle">0.0285</text>
<text x="506.25" y="595.4" class="tick" text-anchor="middle">0.0290</text>
<text x="294.3" y="580" class="tick" text-anchor="end">0.0</text>
<text x="294.3" y="551.5" class="tick" text-anchor="end">0.5</text>
<text x="294.3" y="523" class="tick" text-anchor="end">1.0</text>
<text x="294.3" y="494.5" class="tick" text-anchor="end">1.5</text>
<text x="294.3" y="466" class="tick" text-anchor="end">2.0</text>
<text x="294.3" y="437.5" class="tick" text-anchor="end">2.5</text>
<text x="399" y="605.7" class="ax" textLength="13.2" lengthAdjust="spacingAndGlyphs"><tspan font-style="italic">t</tspan>/s</text>
<text transform="translate(275.5,515.8) rotate(-90)" class="ax" textLength="34" lengthAdjust="spacingAndGlyphs"><tspan font-style="italic">p</tspan>/MPa</text>
</g>
</g></svg></body></html>
